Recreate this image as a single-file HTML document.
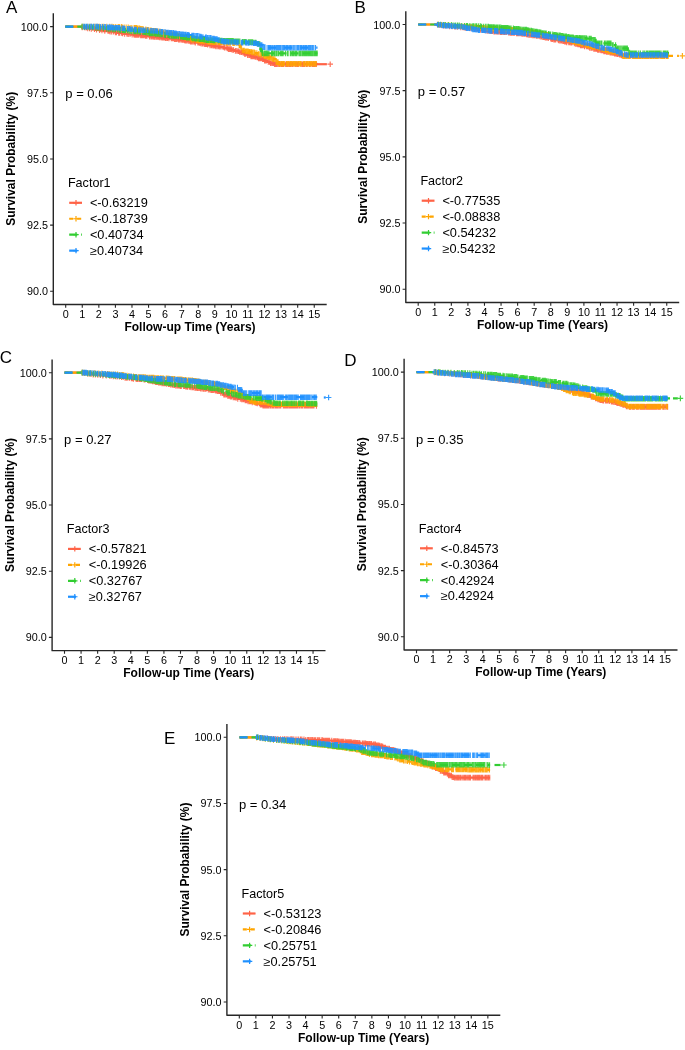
<!DOCTYPE html><html><head><meta charset="utf-8"><style>html,body{margin:0;padding:0;background:#fff;}svg{display:block;will-change:transform;}</style></head><body>
<svg width="685" height="1050" viewBox="0 0 685 1050">
<rect width="685" height="1050" fill="#fff"/>
<g font-family="'Liberation Sans', sans-serif"><path d="M53.3 13.37V304.53H326.7" fill="none" stroke="#262626" stroke-width="1.4" stroke-linejoin="round"/><text x="47.9" y="30.6" text-anchor="end" font-size="10.8" fill="#000">100.0</text><text x="47.9" y="96.78" text-anchor="end" font-size="10.8" fill="#000">97.5</text><text x="47.9" y="162.95" text-anchor="end" font-size="10.8" fill="#000">95.0</text><text x="47.9" y="229.12" text-anchor="end" font-size="10.8" fill="#000">92.5</text><text x="47.9" y="295.3" text-anchor="end" font-size="10.8" fill="#000">90.0</text><text x="65.7" y="317.83" text-anchor="middle" font-size="10.8" fill="#000">0</text><text x="82.27" y="317.83" text-anchor="middle" font-size="10.8" fill="#000">1</text><text x="98.84" y="317.83" text-anchor="middle" font-size="10.8" fill="#000">2</text><text x="115.41" y="317.83" text-anchor="middle" font-size="10.8" fill="#000">3</text><text x="131.98" y="317.83" text-anchor="middle" font-size="10.8" fill="#000">4</text><text x="148.55" y="317.83" text-anchor="middle" font-size="10.8" fill="#000">5</text><text x="165.12" y="317.83" text-anchor="middle" font-size="10.8" fill="#000">6</text><text x="181.69" y="317.83" text-anchor="middle" font-size="10.8" fill="#000">7</text><text x="198.26" y="317.83" text-anchor="middle" font-size="10.8" fill="#000">8</text><text x="214.83" y="317.83" text-anchor="middle" font-size="10.8" fill="#000">9</text><text x="231.4" y="317.83" text-anchor="middle" font-size="10.8" fill="#000">10</text><text x="247.97" y="317.83" text-anchor="middle" font-size="10.8" fill="#000">11</text><text x="264.54" y="317.83" text-anchor="middle" font-size="10.8" fill="#000">12</text><text x="281.11" y="317.83" text-anchor="middle" font-size="10.8" fill="#000">13</text><text x="297.68" y="317.83" text-anchor="middle" font-size="10.8" fill="#000">14</text><text x="314.25" y="317.83" text-anchor="middle" font-size="10.8" fill="#000">15</text><path d="M50.1 26.6H53.3M50.1 92.78H53.3M50.1 158.95H53.3M50.1 225.12H53.3M50.1 291.3H53.3M65.7 304.53V307.73M82.27 304.53V307.73M98.84 304.53V307.73M115.41 304.53V307.73M131.98 304.53V307.73M148.55 304.53V307.73M165.12 304.53V307.73M181.69 304.53V307.73M198.26 304.53V307.73M214.83 304.53V307.73M231.4 304.53V307.73M247.97 304.53V307.73M264.54 304.53V307.73M281.11 304.53V307.73M297.68 304.53V307.73M314.25 304.53V307.73" stroke="#262626" stroke-width="1.1" fill="none"/><text x="190" y="330.83" text-anchor="middle" font-size="12" font-weight="bold" fill="#000">Follow-up Time (Years)</text><text transform="translate(14.9 158.8) rotate(-90)" text-anchor="middle" font-size="12" font-weight="bold" fill="#000">Survival Probability (%)</text><text x="65.3" y="98.2" font-size="13" fill="#000">p = 0.06</text><text transform="translate(67.9 187.1) scale(1.025 1)" font-size="12.3" fill="#000">Factor1</text><path d="M69.2 202.8H82" stroke="#FF6347" stroke-width="2.2" fill="none"/><path d="M76 200.1v5.4M73.3 202.8h5.4" stroke="#FF6347" stroke-width="1.2" fill="none"/><text transform="translate(89.9 207.1) scale(1.04 1)" font-size="12.3" fill="#000">&lt;-0.63219</text><path d="M69.2 218.75H82" stroke="#FFA500" stroke-width="2.2" fill="none" stroke-dasharray="4 4"/><path d="M76 216.05v5.4M73.3 218.75h5.4" stroke="#FFA500" stroke-width="1.2" fill="none"/><text transform="translate(89.9 223.05) scale(1.04 1)" font-size="12.3" fill="#000">&lt;-0.18739</text><path d="M69.2 234.7H82" stroke="#32CD32" stroke-width="2.2" fill="none" stroke-dasharray="8 4"/><path d="M76 232v5.4M73.3 234.7h5.4" stroke="#32CD32" stroke-width="1.2" fill="none"/><text transform="translate(89.9 239) scale(1.04 1)" font-size="12.3" fill="#000">&lt;0.40734</text><path d="M69.2 250.65H82" stroke="#1E90FF" stroke-width="2.2" fill="none" stroke-dasharray="8 8"/><path d="M76 247.95v5.4M73.3 250.65h5.4" stroke="#1E90FF" stroke-width="1.2" fill="none"/><text transform="translate(89.9 254.95) scale(1.04 1)" font-size="12.3" fill="#000">≥0.40734</text><path d="M65.3 26.6H82V27.36H84.54V27.79H86.76V28.39H90.37V28.83H92.98V29.3H95.8V29.78H98.68V30.14H101.02V30.55H104.12V31.05H109.55V31.66H114.62V32.37H117.75V32.88H122.43V33.46H124.21V33.83H127.03V34.24H130.68V34.64H134.17V35.04H139.57V35.5H144.89V36.03H149.39V36.62H153.19V36.93H158.77V37.46H161.46V37.82H164.71V38.19H168.11V38.57H173.9V39.26H177.82V39.7H181.22V40.04H183.4V40.35H185.33V40.76H187.9V41.11H190.06V41.7H195.27V42.66H198.82V43.04H200.72V43.75H204.25V44.27H206.83V44.63H208.66V45.34H212.63V45.76H215.17V46.42H219.12V46.8H221.43V47.15H223.52V47.79H226.41V48.33H228.4V49.13H231.34V50.03H234.61V50.87H237.71V51.29H239.22V52.31H242.39V53.05H244.56V53.95H247.2V55.19H250.84V56.43H254.51V57H256.34V57.52H258.07V58.54H261.45V59.31H264.03V60.62H267.3V62H270.42V63.3H274.39V64.2H317.5" stroke="#FF6347" stroke-width="2.2" fill="none"/><path d="M65.3 26.6H113.19V26.92H122.22V27.26H129.52V27.84H136.73V28.4H139.98V28.82H142.73V29.31H145.87V29.76H148.78V30.23H151.8V30.82H155.62V31.24H158.31V31.6H160.48V32.01H162.53V32.57H165.35V33.25H168.75V33.74H171.22V34.18H173.38V34.56H175.28V35.22H178.58V35.53H180.1V36.25H182.5V36.82H184.4V37.81H187.71V38.82H191.06V39.78H194.28V40.12H198.18V40.62H200.37V41.05H204.14V41.49H207.99V41.89H211.43V42.23H216.92V42.53H225.2V42.89H232.91V43.32H239.74V47.06H241.64V50.49H245.36V51.2H248.77V51.71H251.19V52.4H254.54V53.14H257.26V54.04H260.4V55.08H263.77V56.31H267.58V57.29H270.52V58.02H272.57V59.13H275.68V62.16H278.83V63.8H317.5" stroke="#FFA500" stroke-width="2.2" fill="none" stroke-dasharray="4 4"/><path d="M65.3 26.6H83.73V27.07H88.94V27.39H93.85V27.96H98.98V28.39H105.5V28.89H111.56V29.44H119.09V29.87H120.68V30.25H124.46V30.56H127.6V30.95H131.54V31.34H137.94V31.78H139.79V32.25H145.28V32.66H149.18V33.33H154.61V33.92H159.74V34.53H162.79V34.84H165.34V35.25H168.86V35.6H171.88V36.06H177.56V36.47H179.34V36.82H182.3V37.23H185.86V37.68H191.52V38.36H195.43V38.7H198.02V39.21H203.37V39.74H205.83V40.13H212.09V40.51H222.14V40.86H233.42V41.26H241.14V41.74H247.8V42.14H253.86V42.55H256.46V43.92H260.32V49.45H261.88V53.4H317.5" stroke="#32CD32" stroke-width="2.2" fill="none" stroke-dasharray="8 4"/><path d="M65.3 26.6H98.01V26.92H105.76V27.39H112.73V27.81H119.53V28.3H124.58V28.73H130.29V29.25H132.52V29.64H136.36V29.94H141.15V30.29H148.37V30.71H153.06V31.04H157.3V31.48H160.67V31.91H166.31V32.5H169.14V32.9H174.11V33.42H176.81V33.78H179.87V34.18H183.19V34.56H186.3V34.87H188.91V35.19H191.59V35.54H194.53V35.92H198.84V36.55H201.57V36.96H204.35V37.38H207.3V37.86H212.25V38.48H214.89V39.17H217.16V40.02H219.89V41.03H223.17V41.67H228.2V41.97H235.44V42.34H240.33V42.67H246.51V42.98H251.69V43.29H256.9V43.87H259.02V44.96H262.73V47.08H265.32V47.7H317.5" stroke="#1E90FF" stroke-width="2.2" fill="none" stroke-dasharray="8 8"/><path d="M82.21 24.56v5.6M84.52 24.56v5.6M86.1 24.99v5.6M87.72 25.59v5.6M89.56 25.59v5.6M91.3 26.03v5.6M94.46 26.5v5.6M96.49 26.98v5.6M99.6 27.34v5.6M101.95 27.75v5.6M104.79 28.25v5.6M107.94 28.25v5.6M109.04 28.25v5.6M110.11 28.86v5.6M111.64 28.86v5.6M113.4 28.86v5.6M115.38 29.57v5.6M116.48 29.57v5.6M118.67 30.08v5.6M119.78 30.08v5.6M121.63 30.08v5.6M122.64 30.66v5.6M124.64 31.03v5.6M126.99 31.03v5.6M128.26 31.44v5.6M130.01 31.44v5.6M132.15 31.84v5.6M133.92 31.84v5.6M134.83 32.24v5.6M135.87 32.24v5.6M136.81 32.24v5.6M137.93 32.24v5.6M139.01 32.24v5.6M140.63 32.7v5.6M141.41 32.7v5.6M142.27 32.7v5.6M143.27 32.7v5.6M144.26 32.7v5.6M145.52 33.23v5.6M146.26 33.23v5.6M146.95 33.23v5.6M149.46 33.82v5.6M150.84 33.82v5.6M151.74 33.82v5.6M152.91 33.82v5.6M154 34.13v5.6M154.94 34.13v5.6M156.23 34.13v5.6M157.33 34.13v5.6M158.46 34.13v5.6M159.4 34.66v5.6M160.79 34.66v5.6M161.95 35.02v5.6M162.67 35.02v5.6M163.44 35.02v5.6M164.45 35.02v5.6M165.53 35.39v5.6M166.31 35.39v5.6M167.55 35.39v5.6M168.92 35.77v5.6M171.27 35.77v5.6M172.06 35.77v5.6M172.86 35.77v5.6M173.86 35.77v5.6M174.53 36.46v5.6M175.3 36.46v5.6M176.06 36.46v5.6M177.18 36.46v5.6M178.57 36.9v5.6M179.71 36.9v5.6M181.08 36.9v5.6M182.25 37.24v5.6M183.3 37.24v5.6M184.46 37.55v5.6M185.42 37.96v5.6M186.59 37.96v5.6M187.9 37.96v5.6M189.11 38.31v5.6M190.46 38.9v5.6M191.58 38.9v5.6M192.37 38.9v5.6M193.69 38.9v5.6M194.47 38.9v5.6M195.28 39.86v5.6M197.85 39.86v5.6M198.53 39.86v5.6M199.6 40.24v5.6M200.44 40.24v5.6M201.17 40.95v5.6M202.56 40.95v5.6M203.94 40.95v5.6M204.7 41.47v5.6M205.53 41.47v5.6M206.66 41.47v5.6M207.63 41.83v5.6M210 42.54v5.6M211.32 42.54v5.6M211.99 42.54v5.6M213.22 42.96v5.6M214 42.96v5.6M215.12 42.96v5.6M215.84 43.62v5.6M217.21 43.62v5.6M218.59 43.62v5.6M219.73 44v5.6M220.99 44v5.6M223.12 44.35v5.6M224.44 44.99v5.6M226.1 44.99v5.6M227.38 45.53v5.6M228.51 46.33v5.6M229.47 46.33v5.6M230.33 46.33v5.6M231.25 46.33v5.6M232.21 47.23v5.6M233.51 47.23v5.6M235.38 48.07v5.6M236.77 48.07v5.6M238.05 48.49v5.6M238.9 48.49v5.6M239.8 49.51v5.6M241.16 49.51v5.6M241.88 49.51v5.6M243.26 50.25v5.6M244.59 51.15v5.6M245.61 51.15v5.6M247.6 52.39v5.6M248.88 52.39v5.6M249.69 52.39v5.6M250.95 53.63v5.6M251.66 53.63v5.6M252.77 53.63v5.6M253.62 53.63v5.6M254.43 53.63v5.6M255.22 54.2v5.6M255.97 54.2v5.6M257.27 54.72v5.6M258.49 55.74v5.6M259.5 55.74v5.6M260.43 55.74v5.6M261.36 55.74v5.6M262.55 56.51v5.6M263.5 56.51v5.6M264.52 57.82v5.6M265.4 57.82v5.6M266.32 57.82v5.6M268.25 59.2v5.6M269.4 59.2v5.6M270.56 60.5v5.6M271.27 60.5v5.6M272.6 60.5v5.6M273.72 60.5v5.6M274.51 61.4v5.6M275.49 61.4v5.6M276.47 61.4v5.6M277.7 61.4v5.6M278.98 61.4v5.6M280.06 61.4v5.6M281.43 61.4v5.6M282.19 61.4v5.6M282.98 61.4v5.6M283.63 61.4v5.6M285.67 61.4v5.6M286.61 61.4v5.6M287.56 61.4v5.6M288.85 61.4v5.6M289.54 61.4v5.6M290.53 61.4v5.6M291.9 61.4v5.6M292.94 61.4v5.6M295.12 61.4v5.6M296.3 61.4v5.6M297.54 61.4v5.6M298.36 61.4v5.6M300.89 61.4v5.6M302.23 61.4v5.6M303.17 61.4v5.6M304 61.4v5.6M304.71 61.4v5.6M306.38 61.4v5.6M307.18 61.4v5.6M309.42 61.4v5.6M310.29 61.4v5.6M312.18 61.4v5.6M312.91 61.4v5.6M313.97 61.4v5.6M315.09 61.4v5.6M316.32 61.4v5.6" stroke="#FF6347" stroke-width="1.1" fill="none" opacity="0.9"/><path d="M82.31 23.8v5.6M84.12 23.8v5.6M87.25 23.8v5.6M89.62 23.8v5.6M91.2 23.8v5.6M94.2 23.8v5.6M96.07 23.8v5.6M97.66 23.8v5.6M99.44 23.8v5.6M102.14 23.8v5.6M103.83 23.8v5.6M106.76 23.8v5.6M109.75 23.8v5.6M111.97 23.8v5.6M113.71 24.12v5.6M115.78 24.12v5.6M118.13 24.12v5.6M119.34 24.12v5.6M121.33 24.12v5.6M122.38 24.46v5.6M124.16 24.46v5.6M126.15 24.46v5.6M128.2 24.46v5.6M130.1 25.04v5.6M131.83 25.04v5.6M134.09 25.04v5.6M134.75 25.04v5.6M135.88 25.04v5.6M136.61 25.04v5.6M137.58 25.6v5.6M138.91 25.6v5.6M139.63 25.6v5.6M140.51 26.02v5.6M141.38 26.02v5.6M142.69 26.02v5.6M143.46 26.51v5.6M145.83 26.51v5.6M147.13 26.96v5.6M148.32 26.96v5.6M149.96 27.43v5.6M151.13 27.43v5.6M151.88 28.02v5.6M152.85 28.02v5.6M153.64 28.02v5.6M154.45 28.02v5.6M155.34 28.02v5.6M156.39 28.44v5.6M157.12 28.44v5.6M158.12 28.44v5.6M160.09 28.8v5.6M160.94 29.21v5.6M161.65 29.21v5.6M163.51 29.77v5.6M165.14 29.77v5.6M166.21 30.45v5.6M167.53 30.45v5.6M168.73 30.45v5.6M169.66 30.94v5.6M170.99 30.94v5.6M171.71 31.38v5.6M172.74 31.38v5.6M174.88 31.76v5.6M176.06 32.42v5.6M177.36 32.42v5.6M178.37 32.42v5.6M179.26 32.73v5.6M181.48 33.45v5.6M182.64 34.02v5.6M183.4 34.02v5.6M184.05 34.02v5.6M184.76 35.01v5.6M186 35.01v5.6M186.86 35.01v5.6M187.66 35.01v5.6M189.66 36.02v5.6M190.89 36.02v5.6M191.64 36.98v5.6M192.89 36.98v5.6M193.84 36.98v5.6M196.21 37.32v5.6M197.29 37.32v5.6M197.97 37.32v5.6M198.74 37.82v5.6M199.76 37.82v5.6M200.91 38.25v5.6M201.72 38.25v5.6M202.87 38.25v5.6M203.77 38.25v5.6M204.54 38.69v5.6M206.89 38.69v5.6M208.13 39.09v5.6M209.12 39.09v5.6M209.98 39.09v5.6M211.2 39.09v5.6M212.32 39.43v5.6M213.2 39.43v5.6M214.35 39.43v5.6M215.4 39.43v5.6M216.78 39.43v5.6M218.53 39.73v5.6M219.19 39.73v5.6M220.32 39.73v5.6M221.02 39.73v5.6M221.88 39.73v5.6M223.25 39.73v5.6M224.4 39.73v5.6M226.14 40.09v5.6M227.07 40.09v5.6M227.92 40.09v5.6M228.67 40.09v5.6M229.74 40.09v5.6M230.51 40.09v5.6M232.6 40.09v5.6M233.53 40.52v5.6M234.73 40.52v5.6M236.95 40.52v5.6M238.63 40.52v5.6M240.7 44.26v5.6M241.56 44.26v5.6M242.26 47.69v5.6M243.52 47.69v5.6M244.27 47.69v5.6M245.63 48.4v5.6M246.34 48.4v5.6M247.06 48.4v5.6M248.1 48.4v5.6M248.82 48.91v5.6M249.86 48.91v5.6M251.14 48.91v5.6M251.9 49.6v5.6M252.98 49.6v5.6M254.24 49.6v5.6M255.13 50.34v5.6M256.83 50.34v5.6M258.51 51.24v5.6M259.84 51.24v5.6M261.12 52.28v5.6M263.36 52.28v5.6M264.47 53.51v5.6M265.3 53.51v5.6M266.35 53.51v5.6M267.01 53.51v5.6M267.85 54.49v5.6M268.61 54.49v5.6M269.7 54.49v5.6M270.71 55.22v5.6M271.71 55.22v5.6M272.73 56.33v5.6M273.67 56.33v5.6M274.94 56.33v5.6M276.14 59.36v5.6M277.06 59.36v5.6M278.07 59.36v5.6M278.89 61v5.6M280.05 61v5.6M281.3 61v5.6M282.18 61v5.6M283.36 61v5.6M284.33 61v5.6M286.55 61v5.6M287.74 61v5.6M288.68 61v5.6M290.05 61v5.6M291.11 61v5.6M291.97 61v5.6M293.24 61v5.6M293.94 61v5.6M294.71 61v5.6M295.88 61v5.6M297.02 61v5.6M298.31 61v5.6M299.41 61v5.6M300.4 61v5.6M301.13 61v5.6M303.29 61v5.6M304.48 61v5.6M305.76 61v5.6M306.71 61v5.6M307.72 61v5.6M308.41 61v5.6M309.56 61v5.6M310.75 61v5.6M311.57 61v5.6M312.9 61v5.6M313.59 61v5.6M314.78 61v5.6M315.57 61v5.6M316.33 61v5.6" stroke="#FFA500" stroke-width="1.1" fill="none" opacity="0.9"/><path d="M82.02 23.8v5.6M84.54 24.27v5.6M86.6 24.27v5.6M89.38 24.59v5.6M92.63 24.59v5.6M95.96 25.16v5.6M97.95 25.16v5.6M99.97 25.59v5.6M103.37 25.59v5.6M106.79 26.09v5.6M108.69 26.09v5.6M110.19 26.09v5.6M112.25 26.64v5.6M113.86 26.64v5.6M115.38 26.64v5.6M117.65 26.64v5.6M119.3 27.07v5.6M120.5 27.07v5.6M122.35 27.45v5.6M123.44 27.45v5.6M124.46 27.76v5.6M125.52 27.76v5.6M127.42 27.76v5.6M129.02 28.15v5.6M130.28 28.15v5.6M131.71 28.54v5.6M133.8 28.54v5.6M134.61 28.54v5.6M135.71 28.54v5.6M137.09 28.54v5.6M137.79 28.54v5.6M139.18 28.98v5.6M140.31 29.45v5.6M142.85 29.45v5.6M144.1 29.45v5.6M145.21 29.45v5.6M145.99 29.86v5.6M147.33 29.86v5.6M148.67 29.86v5.6M149.43 30.53v5.6M150.32 30.53v5.6M151.34 30.53v5.6M152.19 30.53v5.6M153.11 30.53v5.6M154.42 30.53v5.6M155.58 31.12v5.6M156.8 31.12v5.6M157.64 31.12v5.6M158.36 31.12v5.6M159.76 31.73v5.6M161.09 31.73v5.6M162.26 31.73v5.6M164.39 32.04v5.6M165.58 32.45v5.6M167.87 32.45v5.6M168.61 32.45v5.6M169.52 32.8v5.6M170.92 32.8v5.6M171.94 33.26v5.6M173.18 33.26v5.6M174.26 33.26v5.6M175.22 33.26v5.6M176.23 33.26v5.6M177.11 33.26v5.6M178.49 33.67v5.6M180.51 34.02v5.6M181.32 34.02v5.6M182.12 34.02v5.6M182.96 34.43v5.6M183.84 34.43v5.6M184.78 34.43v5.6M185.47 34.43v5.6M186.53 34.88v5.6M187.61 34.88v5.6M188.33 34.88v5.6M189.52 34.88v5.6M191.36 34.88v5.6M192.63 35.56v5.6M193.85 35.56v5.6M194.58 35.56v5.6M195.44 35.9v5.6M196.47 35.9v5.6M197.84 35.9v5.6M199.17 36.41v5.6M200.31 36.41v5.6M200.99 36.41v5.6M202.15 36.41v5.6M203.21 36.41v5.6M204.01 36.94v5.6M205.06 36.94v5.6M206.29 37.33v5.6M206.95 37.33v5.6M208.03 37.33v5.6M208.8 37.33v5.6M210.13 37.33v5.6M210.95 37.33v5.6M212.09 37.33v5.6M213.11 37.71v5.6M214.14 37.71v5.6M215 37.71v5.6M217.11 37.71v5.6M218.5 37.71v5.6M219.84 37.71v5.6M220.96 37.71v5.6M221.94 37.71v5.6M223.31 38.06v5.6M224.3 38.06v5.6M225.04 38.06v5.6M226.25 38.06v5.6M227.39 38.06v5.6M228.33 38.06v5.6M229.15 38.06v5.6M230.26 38.06v5.6M231.05 38.06v5.6M232.17 38.06v5.6M233.12 38.06v5.6M234.2 38.46v5.6M235.41 38.46v5.6M236.06 38.46v5.6M236.93 38.46v5.6M237.71 38.46v5.6M238.61 38.46v5.6M239.83 38.46v5.6M242.41 38.94v5.6M243.29 38.94v5.6M244.49 38.94v5.6M245.43 38.94v5.6M246.14 38.94v5.6M248.23 39.34v5.6M249.15 39.34v5.6M250.02 39.34v5.6M250.9 39.34v5.6M251.97 39.34v5.6M252.64 39.34v5.6M253.88 39.75v5.6M255.23 39.75v5.6M255.9 39.75v5.6M257.73 41.12v5.6M258.41 41.12v5.6M259.76 41.12v5.6M260.57 46.65v5.6M261.36 46.65v5.6M262.26 50.6v5.6M263.15 50.6v5.6M264.54 50.6v5.6M265.62 50.6v5.6M266.55 50.6v5.6M267.7 50.6v5.6M268.94 50.6v5.6M271.54 50.6v5.6M272.63 50.6v5.6M273.93 50.6v5.6M274.77 50.6v5.6M276.08 50.6v5.6M276.78 50.6v5.6M278.13 50.6v5.6M278.92 50.6v5.6M280.59 50.6v5.6M281.64 50.6v5.6M282.31 50.6v5.6M283.16 50.6v5.6M285.41 50.6v5.6M287.3 50.6v5.6M288.11 50.6v5.6M290.32 50.6v5.6M291.25 50.6v5.6M292.57 50.6v5.6M293.39 50.6v5.6M294.14 50.6v5.6M295.44 50.6v5.6M296.17 50.6v5.6M296.99 50.6v5.6M298.92 50.6v5.6M299.87 50.6v5.6M300.92 50.6v5.6M302.22 50.6v5.6M303.02 50.6v5.6M304.16 50.6v5.6M305.19 50.6v5.6M306.21 50.6v5.6M306.88 50.6v5.6M308.02 50.6v5.6M309.11 50.6v5.6M310.22 50.6v5.6M311.33 50.6v5.6M312.05 50.6v5.6M312.85 50.6v5.6M314.04 50.6v5.6M315.11 50.6v5.6M316.17 50.6v5.6M317.18 50.6v5.6" stroke="#32CD32" stroke-width="1.1" fill="none" opacity="0.9"/><path d="M83.29 23.8v5.6M84.8 23.8v5.6M86.16 23.8v5.6M87.16 23.8v5.6M88.84 23.8v5.6M90.68 23.8v5.6M91.84 23.8v5.6M93.53 23.8v5.6M95.14 23.8v5.6M96.59 23.8v5.6M97.82 23.8v5.6M98.82 24.12v5.6M100.62 24.12v5.6M102.52 24.12v5.6M104.29 24.12v5.6M105.65 24.12v5.6M107.33 24.59v5.6M108.3 24.59v5.6M109.31 24.59v5.6M110.32 24.59v5.6M111.18 24.59v5.6M112.22 24.59v5.6M113.17 25.01v5.6M113.96 25.01v5.6M115.33 25.01v5.6M116.41 25.01v5.6M117.12 25.01v5.6M118.26 25.01v5.6M119.4 25.01v5.6M120.07 25.5v5.6M121.96 25.5v5.6M123.16 25.5v5.6M123.87 25.5v5.6M124.86 25.93v5.6M127.41 25.93v5.6M128.76 25.93v5.6M129.47 25.93v5.6M130.37 26.45v5.6M131.19 26.45v5.6M132.52 26.45v5.6M134.34 26.84v5.6M135.36 26.84v5.6M136.3 26.84v5.6M138.54 27.14v5.6M139.26 27.14v5.6M140.66 27.14v5.6M141.82 27.49v5.6M143.05 27.49v5.6M143.91 27.49v5.6M145.23 27.49v5.6M147.22 27.49v5.6M147.97 27.49v5.6M150.28 27.91v5.6M151.64 27.91v5.6M152.96 27.91v5.6M153.95 28.24v5.6M155.29 28.24v5.6M156.12 28.24v5.6M156.92 28.24v5.6M157.64 28.68v5.6M159.7 28.68v5.6M161.07 29.11v5.6M161.92 29.11v5.6M162.9 29.11v5.6M164.95 29.11v5.6M166.31 29.7v5.6M167.42 29.7v5.6M168.68 29.7v5.6M169.42 30.1v5.6M170.44 30.1v5.6M171.1 30.1v5.6M172.13 30.1v5.6M173.46 30.1v5.6M174.18 30.62v5.6M175.07 30.62v5.6M176.12 30.62v5.6M176.98 30.98v5.6M178.25 30.98v5.6M179.59 30.98v5.6M180.72 31.38v5.6M181.42 31.38v5.6M182.19 31.38v5.6M183.12 31.38v5.6M184.18 31.76v5.6M185.33 31.76v5.6M186.17 31.76v5.6M187.54 32.07v5.6M188.29 32.07v5.6M189.39 32.39v5.6M191.83 32.74v5.6M192.97 32.74v5.6M193.73 32.74v5.6M195.02 33.12v5.6M196.31 33.12v5.6M197.45 33.12v5.6M198.82 33.12v5.6M199.98 33.75v5.6M200.93 33.75v5.6M201.6 34.16v5.6M202.94 34.16v5.6M205.53 34.58v5.6M206.32 34.58v5.6M207.51 35.06v5.6M208.8 35.06v5.6M210.04 35.06v5.6M210.97 35.06v5.6M212.26 35.68v5.6M213.43 35.68v5.6M214.16 35.68v5.6M215.1 36.37v5.6M216.06 36.37v5.6M217.14 36.37v5.6M218.16 37.22v5.6M219.26 37.22v5.6M220.93 38.23v5.6M221.98 38.23v5.6M222.69 38.23v5.6M223.39 38.87v5.6M224.1 38.87v5.6M225.07 38.87v5.6M226.08 38.87v5.6M227.26 38.87v5.6M228.51 39.17v5.6M229.91 39.17v5.6M231.27 39.17v5.6M232.88 39.17v5.6M234.13 39.17v5.6M235.31 39.17v5.6M236.16 39.54v5.6M237.45 39.54v5.6M238.76 39.54v5.6M241.22 39.87v5.6M242.11 39.87v5.6M242.91 39.87v5.6M245.33 39.87v5.6M246.4 39.87v5.6M247.08 40.18v5.6M248.47 40.18v5.6M249.14 40.18v5.6M251.13 40.18v5.6M253.08 40.49v5.6M254.12 40.49v5.6M255.05 40.49v5.6M255.79 40.49v5.6M256.46 40.49v5.6M257.3 41.07v5.6M258.6 41.07v5.6M259.9 42.16v5.6M261.01 42.16v5.6M261.92 42.16v5.6M262.82 44.28v5.6M263.99 44.28v5.6M265.01 44.28v5.6M267.11 44.9v5.6M268.51 44.9v5.6M269.63 44.9v5.6M270.61 44.9v5.6M271.9 44.9v5.6M273.08 44.9v5.6M274.44 44.9v5.6M275.73 44.9v5.6M276.77 44.9v5.6M277.52 44.9v5.6M278.61 44.9v5.6M279.34 44.9v5.6M280.1 44.9v5.6M281.03 44.9v5.6M282.37 44.9v5.6M283.56 44.9v5.6M284.6 44.9v5.6M285.91 44.9v5.6M286.74 44.9v5.6M287.46 44.9v5.6M288.78 44.9v5.6M289.96 44.9v5.6M290.78 44.9v5.6M292.01 44.9v5.6M293.36 44.9v5.6M294.7 44.9v5.6M296.09 44.9v5.6M297.41 44.9v5.6M298.39 44.9v5.6M299.25 44.9v5.6M300.55 44.9v5.6M301.48 44.9v5.6M302.15 44.9v5.6M303.49 44.9v5.6M304.26 44.9v5.6M305.47 44.9v5.6M306.15 44.9v5.6M306.89 44.9v5.6M308.28 44.9v5.6M309.06 44.9v5.6M309.93 44.9v5.6M310.79 44.9v5.6M312 44.9v5.6M312.66 44.9v5.6M313.87 44.9v5.6M315.54 44.9v5.6" stroke="#1E90FF" stroke-width="1.1" fill="none" opacity="0.9"/><path d="M316.6 64.2H326.9" stroke="#FF6347" stroke-width="2.2" fill="none"/><path d="M330.2 61.4v5.6M327.4 64.2h5.6" stroke="#FF6347" stroke-width="1.2" fill="none" opacity="0.9"/></g>
<g font-family="'Liberation Sans', sans-serif"><path d="M405.8 11.27V302.43H679.2" fill="none" stroke="#262626" stroke-width="1.4" stroke-linejoin="round"/><text x="400.4" y="28.5" text-anchor="end" font-size="10.8" fill="#000">100.0</text><text x="400.4" y="94.67" text-anchor="end" font-size="10.8" fill="#000">97.5</text><text x="400.4" y="160.85" text-anchor="end" font-size="10.8" fill="#000">95.0</text><text x="400.4" y="227.02" text-anchor="end" font-size="10.8" fill="#000">92.5</text><text x="400.4" y="293.2" text-anchor="end" font-size="10.8" fill="#000">90.0</text><text x="418.2" y="315.73" text-anchor="middle" font-size="10.8" fill="#000">0</text><text x="434.77" y="315.73" text-anchor="middle" font-size="10.8" fill="#000">1</text><text x="451.34" y="315.73" text-anchor="middle" font-size="10.8" fill="#000">2</text><text x="467.91" y="315.73" text-anchor="middle" font-size="10.8" fill="#000">3</text><text x="484.48" y="315.73" text-anchor="middle" font-size="10.8" fill="#000">4</text><text x="501.05" y="315.73" text-anchor="middle" font-size="10.8" fill="#000">5</text><text x="517.62" y="315.73" text-anchor="middle" font-size="10.8" fill="#000">6</text><text x="534.19" y="315.73" text-anchor="middle" font-size="10.8" fill="#000">7</text><text x="550.76" y="315.73" text-anchor="middle" font-size="10.8" fill="#000">8</text><text x="567.33" y="315.73" text-anchor="middle" font-size="10.8" fill="#000">9</text><text x="583.9" y="315.73" text-anchor="middle" font-size="10.8" fill="#000">10</text><text x="600.47" y="315.73" text-anchor="middle" font-size="10.8" fill="#000">11</text><text x="617.04" y="315.73" text-anchor="middle" font-size="10.8" fill="#000">12</text><text x="633.61" y="315.73" text-anchor="middle" font-size="10.8" fill="#000">13</text><text x="650.18" y="315.73" text-anchor="middle" font-size="10.8" fill="#000">14</text><text x="666.75" y="315.73" text-anchor="middle" font-size="10.8" fill="#000">15</text><path d="M402.6 24.5H405.8M402.6 90.67H405.8M402.6 156.85H405.8M402.6 223.02H405.8M402.6 289.2H405.8M418.2 302.43V305.63M434.77 302.43V305.63M451.34 302.43V305.63M467.91 302.43V305.63M484.48 302.43V305.63M501.05 302.43V305.63M517.62 302.43V305.63M534.19 302.43V305.63M550.76 302.43V305.63M567.33 302.43V305.63M583.9 302.43V305.63M600.47 302.43V305.63M617.04 302.43V305.63M633.61 302.43V305.63M650.18 302.43V305.63M666.75 302.43V305.63" stroke="#262626" stroke-width="1.1" fill="none"/><text x="542.5" y="328.73" text-anchor="middle" font-size="12" font-weight="bold" fill="#000">Follow-up Time (Years)</text><text transform="translate(367.4 156.7) rotate(-90)" text-anchor="middle" font-size="12" font-weight="bold" fill="#000">Survival Probability (%)</text><text x="417.8" y="96.1" font-size="13" fill="#000">p = 0.57</text><text transform="translate(420.4 185) scale(1.025 1)" font-size="12.3" fill="#000">Factor2</text><path d="M421.7 200.7H434.5" stroke="#FF6347" stroke-width="2.2" fill="none"/><path d="M428.5 198v5.4M425.8 200.7h5.4" stroke="#FF6347" stroke-width="1.2" fill="none"/><text transform="translate(442.4 205) scale(1.04 1)" font-size="12.3" fill="#000">&lt;-0.77535</text><path d="M421.7 216.65H434.5" stroke="#FFA500" stroke-width="2.2" fill="none" stroke-dasharray="4 4"/><path d="M428.5 213.95v5.4M425.8 216.65h5.4" stroke="#FFA500" stroke-width="1.2" fill="none"/><text transform="translate(442.4 220.95) scale(1.04 1)" font-size="12.3" fill="#000">&lt;-0.08838</text><path d="M421.7 232.6H434.5" stroke="#32CD32" stroke-width="2.2" fill="none" stroke-dasharray="8 4"/><path d="M428.5 229.9v5.4M425.8 232.6h5.4" stroke="#32CD32" stroke-width="1.2" fill="none"/><text transform="translate(442.4 236.9) scale(1.04 1)" font-size="12.3" fill="#000">&lt;0.54232</text><path d="M421.7 248.55H434.5" stroke="#1E90FF" stroke-width="2.2" fill="none" stroke-dasharray="8 8"/><path d="M428.5 245.85v5.4M425.8 248.55h5.4" stroke="#1E90FF" stroke-width="1.2" fill="none"/><text transform="translate(442.4 252.85) scale(1.04 1)" font-size="12.3" fill="#000">≥0.54232</text><path d="M418.2 24.5H438.68V25.09H443.38V25.75H448.13V26.47H454.69V27.06H458.05V27.43H464.6V27.94H469.09V28.56H474.23V29.13H478.55V29.86H481.88V30.23H484.52V30.62H487.28V31.01H490.1V31.31H493.71V31.64H500.09V32.15H507.06V32.69H510.31V33.02H516.26V33.38H521.27V33.94H525.76V34.47H527.76V34.95H531.56V35.44H535.49V35.9H539.18V36.62H542.66V37.21H545.18V37.74H547.45V38.32H549.96V38.68H551.51V39.1H553.3V39.69H555.98V40.17H558.52V40.76H561.66V41.32H564.56V41.65H566.31V42.34H569.93V42.82H572.49V43.35H575.19V43.95H577.62V44.54H580.03V45.48H583.83V46.44H587.75V46.93H589.71V48.02H593.5V49.04H597.03V50.03H600.59V50.51H602.8V51.34H606.54V51.99H609.5V52.61H612.14V52.99H613.73V53.66H616.52V54.13H618.46V54.65H620.68V55.46H665.82V55.6H669" stroke="#FF6347" stroke-width="2.2" fill="none"/><path d="M418.2 24.5H440V24.89H445.02V25.32H450.12V25.73H455.78V26.19H462.27V26.61H467.69V26.99H471.56V27.37H478.78V27.81H484.78V28.23H489.79V28.61H496.08V28.98H504.45V29.41H510.45V29.83H516.15V30.37H520.77V30.95H526.28V31.36H528.63V31.81H531.86V32.18H535.61V32.72H537.32V33.27H540.63V33.74H543.44V34.2H545.85V35.07H549.45V35.82H552.57V36.3H554.57V36.78H556.58V37.67H560.31V38.28H562.83V38.97H565.71V39.55H568.11V40.57H571.96V41.45H574.99V42.48H578.55V43.21H581.07V44.14H584.28V44.63H585.96V45.15H587.77V45.8H590.02V46.18H592.25V46.84H596.13V47.19H598.2V47.9H601.09V49.26H604.77V50.31H607.61V51.38H611.35V51.8H614.62V52.24H619.86V54.03H622.12V56.1H669" stroke="#FFA500" stroke-width="2.2" fill="none" stroke-dasharray="4 4"/><path d="M418.2 24.5H443.2V24.88H453.51V25.28H461.24V25.68H471.62V26.13H480.92V26.47H488.99V26.97H494.95V27.38H501.13V27.77H508.36V28.24H513.68V28.77H519.45V29.25H521.45V29.62H526.77V30H529.02V30.48H531.94V31.06H534.99V31.51H537.3V31.94H539.5V32.31H541.45V33H545.01V33.38H547.49V33.69H549.51V34.26H553.21V34.79H556.67V35.35H560.36V35.78H563.26V36.36H567.23V36.73H569.75V37.28H573.51V37.68H580.41V38.11H586.24V38.59H591.59V39.83H595.58V43.32H612.08V44.98H615.58V48.4H627.84V52.52H629.72V53.2H669" stroke="#32CD32" stroke-width="2.2" fill="none" stroke-dasharray="8 4"/><path d="M418.2 24.5H437V24.81H441.94V25.37H445.07V25.77H450.7V26.09H454.62V26.57H461.65V27.03H464.11V27.46H466.62V28.26H470.28V28.6H471.81V29.41H475.67V29.76H477.91V30.21H485.02V30.52H488.87V30.87H497.23V31.34H502.87V31.74H510.36V32.23H516.84V32.63H522.56V33.32H526.04V33.65H530.58V34.2H533.29V34.55H536.24V35.01H540.09V35.46H543.84V36H547.63V36.5H550.89V37.03H554.33V37.48H557.25V37.94H560.26V38.47H563.58V38.92H566.36V39.32H568.9V39.8H571.85V40.18H574.27V40.58H576.75V41H579.4V41.47H581.52V41.93H583.38V42.73H586.6V43.2H588.53V43.73H590.66V44.3H592.96V45.18H595.86V46.29H598.39V47.05H600.24V47.65H603.38V48.29H608.18V49.06H610.67V49.49H612.87V50.32H615.95V51.52H618.68V52.91H621.83V54.09H624.51V54.6H626.66V54.97H666.31V55.2H669" stroke="#1E90FF" stroke-width="2.2" fill="none" stroke-dasharray="8 8"/><path d="M437.43 21.7v5.6M439.18 22.29v5.6M441.29 22.29v5.6M443.56 22.95v5.6M445.12 22.95v5.6M446.98 22.95v5.6M449.67 23.67v5.6M452.13 23.67v5.6M454.94 24.26v5.6M457.32 24.26v5.6M460.79 24.63v5.6M462.95 24.63v5.6M464.02 24.63v5.6M465.37 25.14v5.6M466.72 25.14v5.6M469.04 25.14v5.6M470.1 25.76v5.6M472.47 25.76v5.6M474.81 26.33v5.6M476.82 26.33v5.6M478.34 26.33v5.6M480.65 27.06v5.6M482.75 27.43v5.6M484.3 27.43v5.6M486.03 27.82v5.6M487.76 28.21v5.6M489.06 28.21v5.6M490.74 28.51v5.6M491.91 28.51v5.6M492.59 28.51v5.6M493.92 28.84v5.6M494.72 28.84v5.6M496.02 28.84v5.6M496.85 28.84v5.6M497.89 28.84v5.6M498.59 28.84v5.6M499.26 28.84v5.6M500.43 29.35v5.6M501.57 29.35v5.6M502.91 29.35v5.6M504.15 29.35v5.6M505.09 29.35v5.6M506.34 29.35v5.6M508.59 29.89v5.6M509.46 29.89v5.6M510.57 30.22v5.6M511.49 30.22v5.6M512.71 30.22v5.6M513.46 30.22v5.6M514.57 30.22v5.6M516.48 30.58v5.6M517.54 30.58v5.6M518.67 30.58v5.6M519.89 30.58v5.6M521.08 30.58v5.6M522.03 31.14v5.6M523.19 31.14v5.6M524.46 31.14v5.6M525.23 31.14v5.6M526.5 31.67v5.6M527.22 31.67v5.6M528.22 32.15v5.6M529.47 32.15v5.6M530.33 32.15v5.6M531.49 32.15v5.6M532.32 32.64v5.6M533.64 32.64v5.6M534.53 32.64v5.6M535.19 32.64v5.6M536.49 33.1v5.6M537.72 33.1v5.6M539.07 33.1v5.6M540.23 33.82v5.6M541.48 33.82v5.6M542.79 34.41v5.6M543.67 34.41v5.6M544.53 34.41v5.6M545.27 34.94v5.6M546.24 34.94v5.6M547.11 34.94v5.6M548.33 35.52v5.6M550.72 35.88v5.6M551.76 36.3v5.6M552.57 36.3v5.6M553.85 36.89v5.6M554.71 36.89v5.6M555.73 36.89v5.6M558.29 37.37v5.6M559.11 37.96v5.6M560.34 37.96v5.6M561.52 37.96v5.6M562.83 38.52v5.6M563.93 38.52v5.6M564.65 38.85v5.6M565.66 38.85v5.6M566.72 39.54v5.6M568.73 39.54v5.6M569.75 39.54v5.6M570.94 40.02v5.6M571.85 40.02v5.6M574.36 40.55v5.6M575.69 41.15v5.6M576.9 41.15v5.6M577.89 41.74v5.6M578.6 41.74v5.6M579.47 41.74v5.6M580.47 42.68v5.6M581.34 42.68v5.6M582.3 42.68v5.6M583.16 42.68v5.6M584.52 43.64v5.6M586.37 43.64v5.6M587.5 43.64v5.6M588.83 44.13v5.6M589.73 45.22v5.6M591.07 45.22v5.6M592.14 45.22v5.6M593.81 46.24v5.6M594.96 46.24v5.6M595.85 46.24v5.6M596.72 46.24v5.6M597.67 47.23v5.6M598.58 47.23v5.6M599.89 47.23v5.6M601.04 47.71v5.6M601.94 47.71v5.6M602.74 47.71v5.6M603.84 48.54v5.6M604.71 48.54v5.6M605.4 48.54v5.6M606.58 49.19v5.6M607.72 49.19v5.6M608.88 49.19v5.6M610.12 49.81v5.6M610.99 49.81v5.6M611.93 49.81v5.6M612.82 50.19v5.6M613.68 50.19v5.6M614.56 50.86v5.6M615.5 50.86v5.6M616.36 50.86v5.6M617.14 51.33v5.6M618.16 51.33v5.6M619.48 51.85v5.6M620.6 51.85v5.6M621.34 52.66v5.6M622.28 52.66v5.6M623.97 52.66v5.6M624.89 52.66v5.6M626.29 52.66v5.6M627.6 52.66v5.6M628.77 52.66v5.6M629.6 52.66v5.6M630.65 52.66v5.6M631.36 52.66v5.6M632.62 52.66v5.6M633.87 52.66v5.6M635 52.66v5.6M636.11 52.66v5.6M636.89 52.66v5.6M638.14 52.66v5.6M639.94 52.66v5.6M640.73 52.66v5.6M641.59 52.66v5.6M642.59 52.66v5.6M643.33 52.66v5.6M645.35 52.66v5.6M646.37 52.66v5.6M647.55 52.66v5.6M648.79 52.66v5.6M649.78 52.66v5.6M650.57 52.66v5.6M651.86 52.66v5.6M653.09 52.66v5.6M653.79 52.66v5.6M654.92 52.66v5.6M656 52.66v5.6M656.85 52.66v5.6M657.51 52.66v5.6M658.26 52.66v5.6M659.29 52.66v5.6M660.51 52.66v5.6M661.2 52.66v5.6M662.14 52.66v5.6M664.26 52.66v5.6M664.99 52.66v5.6M666.37 52.8v5.6M667.44 52.8v5.6" stroke="#FF6347" stroke-width="1.1" fill="none" opacity="0.9"/><path d="M438.42 21.7v5.6M441.68 22.09v5.6M444.05 22.09v5.6M445.92 22.52v5.6M448.14 22.52v5.6M449.85 22.52v5.6M452.29 22.93v5.6M454.99 22.93v5.6M457.43 23.39v5.6M458.98 23.39v5.6M460.59 23.39v5.6M462.39 23.81v5.6M463.68 23.81v5.6M465.38 23.81v5.6M467.74 24.19v5.6M469.64 24.19v5.6M470.96 24.19v5.6M472.15 24.57v5.6M474.38 24.57v5.6M475.4 24.57v5.6M476.83 24.57v5.6M478.5 24.57v5.6M480.67 25.01v5.6M482.73 25.01v5.6M484.17 25.01v5.6M485.21 25.43v5.6M486.69 25.43v5.6M487.76 25.43v5.6M489.03 25.43v5.6M490.79 25.81v5.6M492.08 25.81v5.6M493 25.81v5.6M493.92 25.81v5.6M494.78 25.81v5.6M496.91 26.18v5.6M498.01 26.18v5.6M500.27 26.18v5.6M502.75 26.18v5.6M503.94 26.18v5.6M505.04 26.61v5.6M505.81 26.61v5.6M506.69 26.61v5.6M507.95 26.61v5.6M509.12 26.61v5.6M509.92 26.61v5.6M510.79 27.03v5.6M511.5 27.03v5.6M512.29 27.03v5.6M514.85 27.03v5.6M516.23 27.57v5.6M517.04 27.57v5.6M518.08 27.57v5.6M518.99 27.57v5.6M520.3 27.57v5.6M521.35 28.15v5.6M522.65 28.15v5.6M523.52 28.15v5.6M526.03 28.15v5.6M527.05 28.56v5.6M527.76 28.56v5.6M528.5 28.56v5.6M529.61 29.01v5.6M530.56 29.01v5.6M531.26 29.01v5.6M532.58 29.38v5.6M533.76 29.38v5.6M534.94 29.38v5.6M536.27 29.92v5.6M537.07 29.92v5.6M539.28 30.47v5.6M540.11 30.47v5.6M541.12 30.94v5.6M542.19 30.94v5.6M543.38 30.94v5.6M544.52 31.4v5.6M545.59 31.4v5.6M546.65 32.27v5.6M547.81 32.27v5.6M548.57 32.27v5.6M549.72 33.02v5.6M550.48 33.02v5.6M552.87 33.5v5.6M553.58 33.5v5.6M554.6 33.98v5.6M555.53 33.98v5.6M556.7 34.87v5.6M557.84 34.87v5.6M558.75 34.87v5.6M559.64 34.87v5.6M560.9 35.48v5.6M561.82 35.48v5.6M562.75 35.48v5.6M563.82 36.17v5.6M564.84 36.17v5.6M565.52 36.17v5.6M566.7 36.75v5.6M568.05 36.75v5.6M569.31 37.77v5.6M570.58 37.77v5.6M571.31 37.77v5.6M572.3 38.65v5.6M572.98 38.65v5.6M574.06 38.65v5.6M575.01 39.68v5.6M576.05 39.68v5.6M576.91 39.68v5.6M577.78 39.68v5.6M578.82 40.41v5.6M579.86 40.41v5.6M581.06 40.41v5.6M581.89 41.34v5.6M582.61 41.34v5.6M585.1 41.83v5.6M586.37 42.35v5.6M587.67 42.35v5.6M588.36 43v5.6M589.19 43v5.6M590.39 43.38v5.6M591.41 43.38v5.6M592.5 44.04v5.6M593.15 44.04v5.6M594.19 44.04v5.6M595.5 44.04v5.6M597.64 44.39v5.6M598.48 45.1v5.6M599.59 45.1v5.6M602.03 46.46v5.6M603.18 46.46v5.6M604.19 46.46v5.6M605.43 47.51v5.6M606.27 47.51v5.6M607.06 47.51v5.6M608.24 48.58v5.6M609 48.58v5.6M610.32 48.58v5.6M611.67 49v5.6M612.34 49v5.6M613.4 49v5.6M614.28 49v5.6M615.59 49.44v5.6M617.27 49.44v5.6M618.47 49.44v5.6M619.59 49.44v5.6M620.61 51.23v5.6M621.99 51.23v5.6M622.76 53.3v5.6M623.71 53.3v5.6M624.48 53.3v5.6M625.66 53.3v5.6M626.79 53.3v5.6M628.01 53.3v5.6M629.13 53.3v5.6M630.16 53.3v5.6M632.63 53.3v5.6M633.37 53.3v5.6M634.33 53.3v5.6M635.31 53.3v5.6M636.06 53.3v5.6M637.02 53.3v5.6M637.92 53.3v5.6M638.7 53.3v5.6M639.57 53.3v5.6M640.36 53.3v5.6M641.25 53.3v5.6M642.57 53.3v5.6M643.78 53.3v5.6M644.57 53.3v5.6M645.48 53.3v5.6M646.25 53.3v5.6M646.95 53.3v5.6M647.64 53.3v5.6M648.64 53.3v5.6M650.01 53.3v5.6M651.12 53.3v5.6M651.89 53.3v5.6M653.15 53.3v5.6M654.22 53.3v5.6M655.51 53.3v5.6M656.58 53.3v5.6M657.72 53.3v5.6M659.03 53.3v5.6M660.75 53.3v5.6M661.89 53.3v5.6M662.69 53.3v5.6M663.68 53.3v5.6M664.58 53.3v5.6M666.35 53.3v5.6M667.31 53.3v5.6M668.15 53.3v5.6" stroke="#FFA500" stroke-width="1.1" fill="none" opacity="0.9"/><path d="M438.28 21.7v5.6M440.69 21.7v5.6M443.62 22.08v5.6M445.31 22.08v5.6M448.24 22.08v5.6M451.66 22.08v5.6M453.89 22.48v5.6M455.69 22.48v5.6M457.55 22.48v5.6M459.23 22.48v5.6M461.72 22.88v5.6M464.58 22.88v5.6M466.57 22.88v5.6M467.6 22.88v5.6M469.88 22.88v5.6M472.2 23.33v5.6M473.5 23.33v5.6M475.09 23.33v5.6M476.45 23.33v5.6M478.27 23.33v5.6M480.26 23.33v5.6M481.42 23.67v5.6M483.33 23.67v5.6M485.31 23.67v5.6M486.98 23.67v5.6M488.45 23.67v5.6M489.17 24.17v5.6M490.22 24.17v5.6M490.91 24.17v5.6M491.71 24.17v5.6M492.92 24.17v5.6M494.03 24.17v5.6M495.2 24.58v5.6M496.49 24.58v5.6M497.26 24.58v5.6M498.2 24.58v5.6M499.54 24.58v5.6M500.79 24.58v5.6M501.87 24.97v5.6M502.93 24.97v5.6M503.94 24.97v5.6M504.59 24.97v5.6M505.29 24.97v5.6M506.12 24.97v5.6M506.95 24.97v5.6M507.98 24.97v5.6M508.81 25.44v5.6M509.81 25.44v5.6M511.06 25.44v5.6M513.36 25.44v5.6M514.22 25.97v5.6M515 25.97v5.6M516.2 25.97v5.6M516.89 25.97v5.6M518.05 25.97v5.6M518.93 25.97v5.6M519.66 26.45v5.6M520.86 26.45v5.6M522.18 26.82v5.6M523.4 26.82v5.6M524.67 26.82v5.6M525.71 26.82v5.6M526.44 26.82v5.6M527.19 27.2v5.6M528.12 27.2v5.6M529.05 27.68v5.6M530.23 27.68v5.6M531.56 27.68v5.6M532.6 28.26v5.6M533.89 28.26v5.6M535.23 28.71v5.6M536.16 28.71v5.6M536.98 28.71v5.6M537.96 29.14v5.6M539.22 29.14v5.6M539.88 29.51v5.6M540.86 29.51v5.6M542.04 30.2v5.6M542.9 30.2v5.6M544.15 30.2v5.6M545.46 30.58v5.6M546.21 30.58v5.6M548.58 30.89v5.6M549.65 31.46v5.6M550.67 31.46v5.6M552.77 31.46v5.6M554 31.99v5.6M554.89 31.99v5.6M556.04 31.99v5.6M557.09 32.55v5.6M558.03 32.55v5.6M559.41 32.55v5.6M560.17 32.55v5.6M561 32.98v5.6M561.86 32.98v5.6M562.83 32.98v5.6M563.67 33.56v5.6M564.87 33.56v5.6M565.59 33.56v5.6M566.42 33.56v5.6M567.72 33.93v5.6M568.85 33.93v5.6M569.87 34.48v5.6M570.96 34.48v5.6M572.08 34.48v5.6M573.2 34.48v5.6M574.07 34.88v5.6M575.71 34.88v5.6M576.58 34.88v5.6M577.73 34.88v5.6M579.1 34.88v5.6M579.78 34.88v5.6M580.78 35.31v5.6M581.67 35.31v5.6M582.68 35.31v5.6M583.84 35.31v5.6M584.99 35.31v5.6M586.24 35.31v5.6M586.98 35.79v5.6M589.08 35.79v5.6M590.04 35.79v5.6M591.2 35.79v5.6M592.32 37.03v5.6M593.58 37.03v5.6M594.36 37.03v5.6M595.22 37.03v5.6M595.88 40.52v5.6M596.57 40.52v5.6M597.65 40.52v5.6M598.79 40.52v5.6M599.86 40.52v5.6M601.15 40.52v5.6M601.87 40.52v5.6M604.43 40.52v5.6M605.74 40.52v5.6M607.11 40.52v5.6M607.96 40.52v5.6M609.01 40.52v5.6M609.9 40.52v5.6M611.01 40.52v5.6M612.34 42.18v5.6M613.19 42.18v5.6M615.57 42.18v5.6M617.37 45.6v5.6M618.38 45.6v5.6M619.72 45.6v5.6M620.97 45.6v5.6M622.25 45.6v5.6M623.62 45.6v5.6M624.48 45.6v5.6M625.26 45.6v5.6M626.38 45.6v5.6M627.41 45.6v5.6M628.34 49.72v5.6M629.6 49.72v5.6M630.35 50.4v5.6M631.47 50.4v5.6M632.48 50.4v5.6M633.63 50.4v5.6M634.76 50.4v5.6M635.54 50.4v5.6M636.75 50.4v5.6M638.72 50.4v5.6M640.41 50.4v5.6M642.95 50.4v5.6M644.3 50.4v5.6M646.13 50.4v5.6M647.27 50.4v5.6M648.03 50.4v5.6M649.4 50.4v5.6M650.5 50.4v5.6M651.59 50.4v5.6M652.71 50.4v5.6M653.83 50.4v5.6M655 50.4v5.6M656.04 50.4v5.6M656.78 50.4v5.6M657.81 50.4v5.6M658.6 50.4v5.6M659.7 50.4v5.6M661.01 50.4v5.6M663.24 50.4v5.6M664.29 50.4v5.6M665.09 50.4v5.6M665.85 50.4v5.6M667.14 50.4v5.6M667.86 50.4v5.6" stroke="#32CD32" stroke-width="1.1" fill="none" opacity="0.9"/><path d="M437.51 22.01v5.6M439.08 22.01v5.6M440.4 22.01v5.6M442.06 22.57v5.6M443.08 22.57v5.6M444.07 22.57v5.6M445.55 22.97v5.6M446.6 22.97v5.6M447.94 22.97v5.6M449.11 22.97v5.6M450.2 22.97v5.6M451.57 23.29v5.6M452.9 23.29v5.6M454.36 23.29v5.6M455.6 23.77v5.6M456.91 23.77v5.6M458.33 23.77v5.6M459.76 23.77v5.6M461.08 23.77v5.6M462.61 24.23v5.6M463.75 24.23v5.6M464.7 24.66v5.6M465.9 24.66v5.6M466.62 25.46v5.6M467.66 25.46v5.6M468.89 25.46v5.6M469.88 25.46v5.6M471.59 25.8v5.6M472.79 26.61v5.6M473.51 26.61v5.6M474.26 26.61v5.6M475.1 26.61v5.6M475.99 26.96v5.6M477.17 26.96v5.6M478.42 27.41v5.6M479.46 27.41v5.6M481.78 27.41v5.6M482.67 27.41v5.6M483.58 27.41v5.6M484.29 27.41v5.6M485.02 27.72v5.6M485.82 27.72v5.6M487.12 27.72v5.6M488.48 27.72v5.6M489.59 28.07v5.6M490.33 28.07v5.6M491.21 28.07v5.6M491.92 28.07v5.6M494.48 28.07v5.6M495.14 28.07v5.6M496.1 28.07v5.6M497.01 28.07v5.6M497.97 28.54v5.6M500.35 28.54v5.6M501.02 28.54v5.6M501.96 28.54v5.6M502.66 28.54v5.6M503.8 28.94v5.6M504.87 28.94v5.6M506.12 28.94v5.6M507.37 28.94v5.6M508.33 28.94v5.6M509.47 28.94v5.6M511.11 29.43v5.6M511.77 29.43v5.6M512.44 29.43v5.6M513.48 29.43v5.6M514.18 29.43v5.6M514.86 29.43v5.6M516.05 29.43v5.6M516.74 29.43v5.6M517.71 29.83v5.6M518.57 29.83v5.6M519.64 29.83v5.6M520.6 29.83v5.6M521.48 29.83v5.6M522.33 29.83v5.6M523.35 30.52v5.6M524.58 30.52v5.6M525.42 30.52v5.6M527.43 30.85v5.6M528.8 30.85v5.6M531.22 31.4v5.6M532.37 31.4v5.6M533.53 31.75v5.6M534.67 31.75v5.6M535.4 31.75v5.6M536.33 32.21v5.6M537.34 32.21v5.6M538.27 32.21v5.6M539.03 32.21v5.6M539.91 32.21v5.6M542.21 32.66v5.6M543.32 32.66v5.6M544.24 33.2v5.6M545.46 33.2v5.6M546.51 33.2v5.6M547.45 33.2v5.6M548.27 33.7v5.6M549.05 33.7v5.6M550.34 33.7v5.6M551.41 34.23v5.6M552.51 34.23v5.6M553.83 34.23v5.6M554.51 34.68v5.6M555.49 34.68v5.6M556.7 34.68v5.6M558.33 35.14v5.6M559.17 35.14v5.6M560.23 35.14v5.6M560.99 35.67v5.6M561.72 35.67v5.6M562.67 35.67v5.6M563.73 36.12v5.6M564.84 36.12v5.6M567.44 36.52v5.6M568.7 36.52v5.6M570.01 37v5.6M571.13 37v5.6M572.28 37.38v5.6M573.36 37.38v5.6M574.13 37.38v5.6M575.5 37.78v5.6M576.56 37.78v5.6M577.54 38.2v5.6M578.26 38.2v5.6M579.19 38.2v5.6M580.29 38.67v5.6M581.65 39.13v5.6M582.54 39.13v5.6M583.91 39.93v5.6M584.7 39.93v5.6M585.89 39.93v5.6M587.2 40.4v5.6M588.2 40.4v5.6M589.54 40.93v5.6M590.27 40.93v5.6M591.44 41.5v5.6M592.22 41.5v5.6M593 42.38v5.6M593.67 42.38v5.6M595.04 42.38v5.6M595.94 43.49v5.6M597.11 43.49v5.6M598.3 43.49v5.6M599.01 44.25v5.6M600.86 44.85v5.6M601.61 44.85v5.6M602.27 44.85v5.6M603.44 45.49v5.6M604.69 45.49v5.6M606.77 45.49v5.6M608.11 45.49v5.6M609.33 46.26v5.6M610.27 46.26v5.6M611.15 46.69v5.6M611.91 46.69v5.6M613.1 47.52v5.6M614.15 47.52v5.6M615.45 47.52v5.6M616.31 48.72v5.6M617.31 48.72v5.6M618.12 48.72v5.6M619.01 50.11v5.6M620.26 50.11v5.6M621.35 50.11v5.6M622.34 51.29v5.6M624.4 51.29v5.6M625.73 51.8v5.6M626.39 51.8v5.6M627.05 52.17v5.6M628.27 52.17v5.6M630.51 52.17v5.6M631.77 52.17v5.6M632.66 52.17v5.6M633.58 52.17v5.6M634.97 52.17v5.6M636.02 52.17v5.6M636.82 52.17v5.6M637.49 52.17v5.6M639.38 52.17v5.6M640.13 52.17v5.6M641.5 52.17v5.6M642.31 52.17v5.6M643.26 52.17v5.6M644.14 52.17v5.6M645.34 52.17v5.6M646.59 52.17v5.6M647.26 52.17v5.6M648.5 52.17v5.6M649.88 52.17v5.6M650.66 52.17v5.6M651.89 52.17v5.6M653.12 52.17v5.6M653.85 52.17v5.6M654.75 52.17v5.6M656.09 52.17v5.6M657.35 52.17v5.6M658.51 52.17v5.6M659.89 52.17v5.6M660.9 52.17v5.6M662.15 52.17v5.6M663.37 52.17v5.6M664.43 52.17v5.6M665.26 52.17v5.6M666.62 52.4v5.6M667.41 52.4v5.6" stroke="#1E90FF" stroke-width="1.1" fill="none" opacity="0.9"/><path d="M669 55.9H673M677.1 55.9H678.9" stroke="#FFA500" stroke-width="2.2" fill="none"/><path d="M682.4 53.1v5.6M679.6 55.9h5.6" stroke="#FFA500" stroke-width="1.2" fill="none" opacity="0.9"/></g>
<g font-family="'Liberation Sans', sans-serif"><path d="M52.1 359.47V650.63H325.5" fill="none" stroke="#262626" stroke-width="1.4" stroke-linejoin="round"/><text x="46.7" y="376.7" text-anchor="end" font-size="10.8" fill="#000">100.0</text><text x="46.7" y="442.88" text-anchor="end" font-size="10.8" fill="#000">97.5</text><text x="46.7" y="509.05" text-anchor="end" font-size="10.8" fill="#000">95.0</text><text x="46.7" y="575.22" text-anchor="end" font-size="10.8" fill="#000">92.5</text><text x="46.7" y="641.4" text-anchor="end" font-size="10.8" fill="#000">90.0</text><text x="64.5" y="663.93" text-anchor="middle" font-size="10.8" fill="#000">0</text><text x="81.07" y="663.93" text-anchor="middle" font-size="10.8" fill="#000">1</text><text x="97.64" y="663.93" text-anchor="middle" font-size="10.8" fill="#000">2</text><text x="114.21" y="663.93" text-anchor="middle" font-size="10.8" fill="#000">3</text><text x="130.78" y="663.93" text-anchor="middle" font-size="10.8" fill="#000">4</text><text x="147.35" y="663.93" text-anchor="middle" font-size="10.8" fill="#000">5</text><text x="163.92" y="663.93" text-anchor="middle" font-size="10.8" fill="#000">6</text><text x="180.49" y="663.93" text-anchor="middle" font-size="10.8" fill="#000">7</text><text x="197.06" y="663.93" text-anchor="middle" font-size="10.8" fill="#000">8</text><text x="213.63" y="663.93" text-anchor="middle" font-size="10.8" fill="#000">9</text><text x="230.2" y="663.93" text-anchor="middle" font-size="10.8" fill="#000">10</text><text x="246.77" y="663.93" text-anchor="middle" font-size="10.8" fill="#000">11</text><text x="263.34" y="663.93" text-anchor="middle" font-size="10.8" fill="#000">12</text><text x="279.91" y="663.93" text-anchor="middle" font-size="10.8" fill="#000">13</text><text x="296.48" y="663.93" text-anchor="middle" font-size="10.8" fill="#000">14</text><text x="313.05" y="663.93" text-anchor="middle" font-size="10.8" fill="#000">15</text><path d="M48.9 372.7H52.1M48.9 438.88H52.1M48.9 505.05H52.1M48.9 571.22H52.1M48.9 637.4H52.1M64.5 650.63V653.83M81.07 650.63V653.83M97.64 650.63V653.83M114.21 650.63V653.83M130.78 650.63V653.83M147.35 650.63V653.83M163.92 650.63V653.83M180.49 650.63V653.83M197.06 650.63V653.83M213.63 650.63V653.83M230.2 650.63V653.83M246.77 650.63V653.83M263.34 650.63V653.83M279.91 650.63V653.83M296.48 650.63V653.83M313.05 650.63V653.83" stroke="#262626" stroke-width="1.1" fill="none"/><text x="188.8" y="676.93" text-anchor="middle" font-size="12" font-weight="bold" fill="#000">Follow-up Time (Years)</text><text transform="translate(13.7 504.9) rotate(-90)" text-anchor="middle" font-size="12" font-weight="bold" fill="#000">Survival Probability (%)</text><text x="64.1" y="444.3" font-size="13" fill="#000">p = 0.27</text><text transform="translate(66.7 533.2) scale(1.025 1)" font-size="12.3" fill="#000">Factor3</text><path d="M68 548.9H80.8" stroke="#FF6347" stroke-width="2.2" fill="none"/><path d="M74.8 546.2v5.4M72.1 548.9h5.4" stroke="#FF6347" stroke-width="1.2" fill="none"/><text transform="translate(88.7 553.2) scale(1.04 1)" font-size="12.3" fill="#000">&lt;-0.57821</text><path d="M68 564.85H80.8" stroke="#FFA500" stroke-width="2.2" fill="none" stroke-dasharray="4 4"/><path d="M74.8 562.15v5.4M72.1 564.85h5.4" stroke="#FFA500" stroke-width="1.2" fill="none"/><text transform="translate(88.7 569.15) scale(1.04 1)" font-size="12.3" fill="#000">&lt;-0.19926</text><path d="M68 580.8H80.8" stroke="#32CD32" stroke-width="2.2" fill="none" stroke-dasharray="8 4"/><path d="M74.8 578.1v5.4M72.1 580.8h5.4" stroke="#32CD32" stroke-width="1.2" fill="none"/><text transform="translate(88.7 585.1) scale(1.04 1)" font-size="12.3" fill="#000">&lt;0.32767</text><path d="M68 596.75H80.8" stroke="#1E90FF" stroke-width="2.2" fill="none" stroke-dasharray="8 8"/><path d="M74.8 594.05v5.4M72.1 596.75h5.4" stroke="#1E90FF" stroke-width="1.2" fill="none"/><text transform="translate(88.7 601.05) scale(1.04 1)" font-size="12.3" fill="#000">≥0.32767</text><path d="M64.5 372.6H83.19V373.26H86.6V373.77H90.53V374.1H93.07V374.6H96.93V374.94H99.51V375.26H102.56V375.64H108.37V376H111.91V376.35H116.1V376.79H119.64V377.22H124.41V377.95H129.65V378.49H132.78V378.93H136.54V379.32H141.78V379.76H146.09V380.22H147.6V380.79H151.53V381.45H154.94V382.12H158.46V382.72H161.59V383.49H165.55V383.96H168.02V384.27H169.63V384.73H172.02V385.22H174.61V385.66H179.64V386.26H185.65V386.72H187.22V387.07H190.23V387.49H193.91V387.84H196.93V388.24H200.27V388.63H202.87V389H206.92V389.79H210.6V390.23H215.37V390.8H217.35V391.29H220.19V392.84H223.42V394.7H227.3V395.94H229.87V396.67H232.74V397.48H235.98V397.88H237.64V398.85H241.54V399.45H243.99V400.47H247.96V401.43H251.65V402.36H255.24V402.85H257.1V403.53H259.73V404.73H262.45V405.78H316.14V405.9H317.3" stroke="#FF6347" stroke-width="2.2" fill="none"/><path d="M64.5 372.6H86.04V372.93H95.4V373.33H103.5V373.8H110.66V374.24H117.59V374.78H123.86V375.53H127.74V375.91H130.89V376.29H134.11V376.72H137.66V377.07H145.97V377.49H154.49V378H160.39V378.3H169.45V378.8H176.99V379.35H182.62V379.87H186.46V380.18H192.68V380.76H195.92V381.39H199.5V381.96H202.71V382.63H206.54V383.03H208.82V383.55H211.74V383.91H215.41V384.78H218.75V385.42H221.05V386.03H222.58V387.19H225.48V388.51H228.77V389.18H230.45V390.09H232.73V391.58H236.45V392.76H239.41V393.64H241.08V395.65H244.47V396.91H246.58V398.39H249.08V400.73H253.03V401.93H266.01V402.4H268.01V403.1H270.34V404.25H315.9V404.5H317.3" stroke="#FFA500" stroke-width="2.2" fill="none" stroke-dasharray="4 4"/><path d="M64.5 372.6H84.35V373.05H86.43V373.41H93.28V373.9H98.64V374.43H104.77V374.86H106.64V375.18H113.29V375.66H117.62V375.97H119.64V376.31H125.67V376.86H128.61V377.17H134.11V377.56H137.16V378.15H140.84V378.66H143.79V379.3H147.41V379.88H150.75V380.43H153.87V380.84H156.23V381.42H159.53V381.88H162.37V382.34H165.25V382.75H167.79V383.26H171.03V383.86H174.76V384.21H178.55V384.55H184.04V384.95H189.32V385.34H194.25V385.73H197.46V386.21H200.75V386.72H204.31V387.15H207.23V387.65H210.66V388.2H216.33V388.78H218.47V389.51H221.27V390.39H223.48V391.75H226.87V392.86H229.64V393.44H231.82V394.36H235.66V394.9H237.9V395.62H240.91V396.41H244.2V396.91H249.64V397.35H251.96V397.77H255.88V398.08H260.93V398.65H263.69V399.51H266.61V400.79H269.51V401.67H271.53V402.88H274.27V403.21H307.49V403.53H315.28V403.6H317.3" stroke="#32CD32" stroke-width="2.2" fill="none" stroke-dasharray="8 4"/><path d="M64.5 372.6H86.88V373.03H94.42V373.47H99.08V373.77H105.53V374.34H108.73V374.66H115.55V375.07H117.34V375.38H122.41V375.94H128.19V376.5H132.9V376.88H134.78V377.18H137.63V377.49H143.32V378H147.7V378.5H154.55V378.83H164.07V379.15H170.97V379.48H176.76V379.85H178.99V380.16H182.49V380.48H188.8V381.02H194.43V381.49H200.74V381.96H202.36V382.3H207.98V382.92H211.07V383.33H214.86V383.66H217.85V384.01H220.41V384.96H224.07V385.58H226.46V386.03H228.2V386.66H231.16V387.18H234.96V387.6H238.07V389.8H241.71V393.1H262.1V397.2H317.3" stroke="#1E90FF" stroke-width="2.2" fill="none" stroke-dasharray="8 8"/><path d="M82.54 369.8v5.6M84.28 370.46v5.6M87.69 370.97v5.6M89.25 370.97v5.6M91.01 371.3v5.6M93.15 371.8v5.6M95.32 371.8v5.6M97.82 372.14v5.6M100.41 372.46v5.6M102.85 372.84v5.6M106.3 372.84v5.6M109.65 373.2v5.6M111.14 373.2v5.6M113.3 373.55v5.6M115.43 373.55v5.6M117.1 373.99v5.6M119.41 373.99v5.6M121.55 374.42v5.6M123.18 374.42v5.6M125.09 375.15v5.6M126.37 375.15v5.6M127.8 375.15v5.6M129.54 375.15v5.6M131.42 375.69v5.6M132.44 375.69v5.6M133.42 376.13v5.6M136.01 376.13v5.6M136.89 376.52v5.6M137.55 376.52v5.6M138.95 376.52v5.6M139.89 376.52v5.6M140.82 376.52v5.6M141.64 376.52v5.6M144.12 376.96v5.6M145.01 376.96v5.6M147.55 377.42v5.6M148.75 377.99v5.6M149.45 377.99v5.6M150.13 377.99v5.6M150.82 377.99v5.6M151.51 377.99v5.6M152.47 378.65v5.6M153.84 378.65v5.6M154.76 378.65v5.6M155.6 379.32v5.6M156.46 379.32v5.6M157.38 379.32v5.6M158.53 379.92v5.6M159.58 379.92v5.6M160.66 379.92v5.6M161.97 380.69v5.6M163.22 380.69v5.6M164.39 380.69v5.6M165.36 380.69v5.6M166.67 381.16v5.6M168.47 381.47v5.6M169.37 381.47v5.6M170.6 381.93v5.6M171.98 381.93v5.6M173.11 382.42v5.6M174.47 382.42v5.6M175.72 382.86v5.6M177 382.86v5.6M177.84 382.86v5.6M178.53 382.86v5.6M179.41 382.86v5.6M180.34 383.46v5.6M181.3 383.46v5.6M183.6 383.46v5.6M184.5 383.46v5.6M185.71 383.92v5.6M186.53 383.92v5.6M187.46 384.27v5.6M189.26 384.27v5.6M190.01 384.27v5.6M191.16 384.69v5.6M192.55 384.69v5.6M193.55 384.69v5.6M194.92 385.04v5.6M195.66 385.04v5.6M196.78 385.04v5.6M197.44 385.44v5.6M198.69 385.44v5.6M199.93 385.44v5.6M200.74 385.83v5.6M202.08 385.83v5.6M203.38 386.2v5.6M204.11 386.2v5.6M205.37 386.2v5.6M206.05 386.2v5.6M208.33 386.99v5.6M209.64 386.99v5.6M210.93 387.43v5.6M211.9 387.43v5.6M212.88 387.43v5.6M214.03 387.43v5.6M215.41 388v5.6M216.53 388v5.6M217.35 388.49v5.6M218.05 388.49v5.6M219.07 388.49v5.6M219.87 388.49v5.6M220.73 390.04v5.6M222.12 390.04v5.6M222.84 390.04v5.6M223.83 391.9v5.6M224.48 391.9v5.6M225.32 391.9v5.6M226.52 391.9v5.6M227.73 393.14v5.6M228.76 393.14v5.6M229.42 393.14v5.6M230.37 393.87v5.6M231.52 393.87v5.6M233.21 394.68v5.6M234.39 394.68v5.6M235.07 394.68v5.6M236.12 395.08v5.6M237.76 396.05v5.6M240.3 396.05v5.6M241.7 396.65v5.6M242.92 396.65v5.6M243.9 396.65v5.6M245.2 397.67v5.6M246.02 397.67v5.6M246.7 397.67v5.6M248.02 398.63v5.6M249.29 398.63v5.6M250.32 398.63v5.6M251 398.63v5.6M252.28 399.56v5.6M254.76 399.56v5.6M255.88 400.05v5.6M256.55 400.05v5.6M257.34 400.73v5.6M259.48 400.73v5.6M260.34 401.93v5.6M261 401.93v5.6M262.16 401.93v5.6M262.99 402.98v5.6M264.11 402.98v5.6M265.19 402.98v5.6M266.09 402.98v5.6M267 402.98v5.6M267.8 402.98v5.6M268.62 402.98v5.6M269.99 402.98v5.6M270.84 402.98v5.6M272.15 402.98v5.6M273.05 402.98v5.6M274.12 402.98v5.6M275.5 402.98v5.6M276.53 402.98v5.6M277.6 402.98v5.6M278.85 402.98v5.6M280.04 402.98v5.6M280.83 402.98v5.6M283.25 402.98v5.6M284 402.98v5.6M284.91 402.98v5.6M285.99 402.98v5.6M286.92 402.98v5.6M287.85 402.98v5.6M289.08 402.98v5.6M290.06 402.98v5.6M291.13 402.98v5.6M292.21 402.98v5.6M293.03 402.98v5.6M293.88 402.98v5.6M294.96 402.98v5.6M295.69 402.98v5.6M296.35 402.98v5.6M297.47 402.98v5.6M298.85 402.98v5.6M299.69 402.98v5.6M301.08 402.98v5.6M302.01 402.98v5.6M302.92 402.98v5.6M304.53 402.98v5.6M305.31 402.98v5.6M306.31 402.98v5.6M307.19 402.98v5.6M308.13 402.98v5.6M309.1 402.98v5.6M310.28 402.98v5.6M311.28 402.98v5.6M312.35 402.98v5.6M313.02 402.98v5.6M314.02 402.98v5.6M316.42 403.1v5.6" stroke="#FF6347" stroke-width="1.1" fill="none" opacity="0.9"/><path d="M82.09 369.8v5.6M84.17 369.8v5.6M86.22 370.13v5.6M87.95 370.13v5.6M90.87 370.13v5.6M93.99 370.13v5.6M95.52 370.53v5.6M98.8 370.53v5.6M101.88 370.53v5.6M105.3 371v5.6M107.5 371v5.6M109.15 371v5.6M111.21 371.44v5.6M113.24 371.44v5.6M115.61 371.44v5.6M117.59 371.44v5.6M119.42 371.98v5.6M121.09 371.98v5.6M122.38 371.98v5.6M123.72 371.98v5.6M125.31 372.73v5.6M127.04 372.73v5.6M128.9 373.11v5.6M131.12 373.49v5.6M133.5 373.49v5.6M134.36 373.92v5.6M135.49 373.92v5.6M136.47 373.92v5.6M138.3 374.27v5.6M139.31 374.27v5.6M140.34 374.27v5.6M141.73 374.27v5.6M142.97 374.27v5.6M144 374.27v5.6M145.28 374.27v5.6M146.36 374.69v5.6M147.59 374.69v5.6M148.92 374.69v5.6M149.8 374.69v5.6M151.05 374.69v5.6M151.95 374.69v5.6M152.73 374.69v5.6M153.74 374.69v5.6M154.92 375.2v5.6M155.6 375.2v5.6M156.82 375.2v5.6M157.54 375.2v5.6M158.5 375.2v5.6M160.17 375.2v5.6M161.14 375.5v5.6M161.93 375.5v5.6M162.83 375.5v5.6M163.62 375.5v5.6M166.21 375.5v5.6M167.23 375.5v5.6M168.84 375.5v5.6M169.68 376v5.6M171.07 376v5.6M171.89 376v5.6M172.68 376v5.6M173.88 376v5.6M174.81 376v5.6M177.28 376.55v5.6M178.42 376.55v5.6M179.54 376.55v5.6M180.62 376.55v5.6M181.88 376.55v5.6M182.93 377.07v5.6M184.03 377.07v5.6M185.41 377.07v5.6M186.47 377.38v5.6M187.78 377.38v5.6M188.8 377.38v5.6M190.03 377.38v5.6M191.18 377.38v5.6M192.54 377.38v5.6M193.28 377.96v5.6M194.31 377.96v5.6M195.05 377.96v5.6M195.91 377.96v5.6M196.76 378.59v5.6M197.75 378.59v5.6M198.84 378.59v5.6M199.82 379.16v5.6M200.59 379.16v5.6M203.14 379.83v5.6M204.04 379.83v5.6M204.97 379.83v5.6M205.84 379.83v5.6M207.04 380.23v5.6M208.4 380.23v5.6M210.58 380.75v5.6M212.57 381.11v5.6M213.52 381.11v5.6M214.52 381.11v5.6M215.82 381.98v5.6M216.99 381.98v5.6M217.84 381.98v5.6M218.59 381.98v5.6M219.85 382.62v5.6M220.82 382.62v5.6M222.2 383.23v5.6M223.14 384.39v5.6M224.29 384.39v5.6M225.4 384.39v5.6M226.17 385.71v5.6M227.49 385.71v5.6M228.82 386.38v5.6M229.7 386.38v5.6M230.8 387.29v5.6M231.86 387.29v5.6M233.15 388.78v5.6M234.29 388.78v5.6M234.95 388.78v5.6M236.05 388.78v5.6M237.42 389.96v5.6M238.77 389.96v5.6M239.57 390.84v5.6M240.32 390.84v5.6M241.25 392.85v5.6M242.01 392.85v5.6M243.05 392.85v5.6M244.26 392.85v5.6M245.6 394.11v5.6M246.53 394.11v5.6M247.57 395.59v5.6M248.76 395.59v5.6M249.68 397.93v5.6M250.68 397.93v5.6M251.65 397.93v5.6M252.61 397.93v5.6M253.68 399.13v5.6M254.6 399.13v5.6M255.67 399.13v5.6M256.94 399.13v5.6M258.28 399.13v5.6M259.62 399.13v5.6M260.45 399.13v5.6M261.41 399.13v5.6M262.14 399.13v5.6M263.14 399.13v5.6M264.46 399.13v5.6M265.36 399.13v5.6M266.18 399.6v5.6M267.39 399.6v5.6M268.13 400.3v5.6M268.78 400.3v5.6M270.15 400.3v5.6M271.38 401.45v5.6M272.54 401.45v5.6M273.38 401.45v5.6M274.06 401.45v5.6M274.78 401.45v5.6M276.17 401.45v5.6M277.5 401.45v5.6M278.56 401.45v5.6M279.84 401.45v5.6M281.16 401.45v5.6M282 401.45v5.6M282.96 401.45v5.6M283.84 401.45v5.6M284.75 401.45v5.6M285.78 401.45v5.6M287.07 401.45v5.6M288.42 401.45v5.6M289.41 401.45v5.6M290.49 401.45v5.6M291.25 401.45v5.6M292.26 401.45v5.6M293.46 401.45v5.6M294.29 401.45v5.6M295.14 401.45v5.6M296.06 401.45v5.6M296.95 401.45v5.6M298.21 401.45v5.6M299 401.45v5.6M300.06 401.45v5.6M301.03 401.45v5.6M301.69 401.45v5.6M303.05 401.45v5.6M304.05 401.45v5.6M305.21 401.45v5.6M307.18 401.45v5.6M308.45 401.45v5.6M309.35 401.45v5.6M310.56 401.45v5.6M311.58 401.45v5.6M312.5 401.45v5.6M313.58 401.45v5.6M314.65 401.45v5.6M315.45 401.45v5.6M316.56 401.7v5.6" stroke="#FFA500" stroke-width="1.1" fill="none" opacity="0.9"/><path d="M82.08 369.8v5.6M85.04 370.25v5.6M87.55 370.61v5.6M89.33 370.61v5.6M90.86 370.61v5.6M93.58 371.1v5.6M95.65 371.1v5.6M97.35 371.1v5.6M100.26 371.63v5.6M103.28 371.63v5.6M105.8 372.06v5.6M108.27 372.38v5.6M109.53 372.38v5.6M111.3 372.38v5.6M112.7 372.38v5.6M114.08 372.86v5.6M115.21 372.86v5.6M117.39 372.86v5.6M119.46 373.17v5.6M120.47 373.51v5.6M122.53 373.51v5.6M123.7 373.51v5.6M125.97 374.06v5.6M127.34 374.06v5.6M129.18 374.37v5.6M131.47 374.37v5.6M133.23 374.37v5.6M134.46 374.76v5.6M135.27 374.76v5.6M136.22 374.76v5.6M137.27 375.35v5.6M139.64 375.35v5.6M140.58 375.35v5.6M141.5 375.86v5.6M142.81 375.86v5.6M143.65 375.86v5.6M145.03 376.5v5.6M146.09 376.5v5.6M147.03 376.5v5.6M148.04 377.08v5.6M148.78 377.08v5.6M149.91 377.08v5.6M150.84 377.63v5.6M151.73 377.63v5.6M152.92 377.63v5.6M154.1 378.04v5.6M155.36 378.04v5.6M156.46 378.62v5.6M157.48 378.62v5.6M158.31 378.62v5.6M159.25 378.62v5.6M160.31 379.08v5.6M161.34 379.08v5.6M162.7 379.54v5.6M164.38 379.54v5.6M165.48 379.95v5.6M166.19 379.95v5.6M167.25 379.95v5.6M168.02 380.46v5.6M169.34 380.46v5.6M170.08 380.46v5.6M170.92 380.46v5.6M172.27 381.06v5.6M174.3 381.06v5.6M174.97 381.41v5.6M175.84 381.41v5.6M178 381.41v5.6M178.82 381.75v5.6M179.6 381.75v5.6M180.65 381.75v5.6M181.34 381.75v5.6M182.61 381.75v5.6M183.8 381.75v5.6M185.14 382.15v5.6M185.9 382.15v5.6M186.85 382.15v5.6M187.97 382.15v5.6M189.23 382.15v5.6M190.19 382.54v5.6M192.21 382.54v5.6M194.69 382.93v5.6M196.61 382.93v5.6M197.42 382.93v5.6M198.45 383.41v5.6M199.26 383.41v5.6M200.11 383.41v5.6M201.13 383.92v5.6M202.33 383.92v5.6M203.15 383.92v5.6M204.33 384.35v5.6M205.1 384.35v5.6M205.95 384.35v5.6M206.71 384.35v5.6M208.67 384.85v5.6M209.77 384.85v5.6M210.8 385.4v5.6M212.01 385.4v5.6M212.75 385.4v5.6M213.98 385.4v5.6M214.96 385.4v5.6M216.27 385.4v5.6M217.61 385.98v5.6M218.79 386.71v5.6M220.18 386.71v5.6M221.51 387.59v5.6M222.75 387.59v5.6M223.74 388.95v5.6M226.33 388.95v5.6M227.69 390.06v5.6M228.68 390.06v5.6M229.36 390.06v5.6M231.5 390.64v5.6M232.74 391.56v5.6M233.79 391.56v5.6M235.12 391.56v5.6M236.17 392.1v5.6M236.86 392.1v5.6M238.16 392.82v5.6M238.87 392.82v5.6M239.81 392.82v5.6M240.67 392.82v5.6M242 393.61v5.6M243.4 393.61v5.6M244.68 394.11v5.6M245.59 394.11v5.6M246.54 394.11v5.6M247.31 394.11v5.6M248.36 394.11v5.6M249.12 394.11v5.6M249.89 394.55v5.6M250.69 394.55v5.6M253.04 394.97v5.6M253.77 394.97v5.6M255.12 394.97v5.6M255.84 394.97v5.6M256.63 395.28v5.6M257.77 395.28v5.6M258.9 395.28v5.6M259.69 395.28v5.6M260.5 395.28v5.6M261.56 395.85v5.6M262.48 395.85v5.6M263.15 395.85v5.6M265.12 396.71v5.6M265.78 396.71v5.6M267.02 397.99v5.6M267.78 397.99v5.6M268.94 397.99v5.6M270.12 398.87v5.6M271.29 398.87v5.6M273.05 400.08v5.6M274.18 400.08v5.6M275.3 400.41v5.6M276.32 400.41v5.6M277.37 400.41v5.6M278.03 400.41v5.6M279.33 400.41v5.6M280.28 400.41v5.6M282.61 400.41v5.6M283.94 400.41v5.6M285.21 400.41v5.6M286.46 400.41v5.6M287.6 400.41v5.6M288.87 400.41v5.6M290.19 400.41v5.6M291.46 400.41v5.6M292.33 400.41v5.6M293.73 400.41v5.6M294.92 400.41v5.6M296.28 400.41v5.6M298.34 400.41v5.6M299.05 400.41v5.6M299.81 400.41v5.6M300.48 400.41v5.6M301.82 400.41v5.6M302.98 400.41v5.6M303.81 400.41v5.6M306.38 400.41v5.6M307.37 400.41v5.6M308.05 400.73v5.6M309.18 400.73v5.6M310.21 400.73v5.6M311.48 400.73v5.6M312.28 400.73v5.6M313.03 400.73v5.6M314.35 400.73v5.6M315.14 400.73v5.6M315.91 400.8v5.6M316.65 400.8v5.6" stroke="#32CD32" stroke-width="1.1" fill="none" opacity="0.9"/><path d="M82.89 369.8v5.6M83.97 369.8v5.6M85.17 369.8v5.6M86.25 369.8v5.6M87.38 370.23v5.6M89.14 370.23v5.6M90.5 370.23v5.6M92.19 370.23v5.6M94.08 370.23v5.6M95.87 370.67v5.6M97.45 370.67v5.6M99.14 370.97v5.6M100.84 370.97v5.6M102.47 370.97v5.6M103.83 370.97v5.6M105.07 370.97v5.6M106.14 371.54v5.6M107.5 371.54v5.6M108.53 371.54v5.6M109.59 371.86v5.6M110.51 371.86v5.6M111.68 371.86v5.6M113.02 371.86v5.6M113.77 371.86v5.6M114.74 371.86v5.6M115.59 372.27v5.6M116.64 372.27v5.6M117.65 372.58v5.6M118.72 372.58v5.6M120.09 372.58v5.6M121.1 372.58v5.6M121.99 372.58v5.6M122.94 373.14v5.6M123.69 373.14v5.6M124.68 373.14v5.6M125.43 373.14v5.6M126.33 373.14v5.6M128.81 373.7v5.6M129.82 373.7v5.6M130.57 373.7v5.6M131.32 373.7v5.6M133.07 374.08v5.6M135.28 374.38v5.6M136.16 374.38v5.6M136.91 374.38v5.6M139.17 374.69v5.6M139.88 374.69v5.6M140.91 374.69v5.6M141.69 374.69v5.6M143.03 374.69v5.6M144.08 375.2v5.6M144.85 375.2v5.6M146.14 375.2v5.6M147.05 375.2v5.6M148.07 375.7v5.6M149.37 375.7v5.6M150.74 375.7v5.6M151.75 375.7v5.6M152.51 375.7v5.6M154.32 375.7v5.6M156.09 376.03v5.6M156.98 376.03v5.6M157.96 376.03v5.6M158.79 376.03v5.6M159.76 376.03v5.6M160.65 376.03v5.6M161.69 376.03v5.6M163 376.03v5.6M164.66 376.35v5.6M167.15 376.35v5.6M167.87 376.35v5.6M168.85 376.35v5.6M169.94 376.35v5.6M170.65 376.35v5.6M171.88 376.68v5.6M172.85 376.68v5.6M174.76 376.68v5.6M176.04 376.68v5.6M176.88 377.05v5.6M178.02 377.05v5.6M179.23 377.36v5.6M180.15 377.36v5.6M181.42 377.36v5.6M182.65 377.68v5.6M184 377.68v5.6M185.08 377.68v5.6M186.18 377.68v5.6M188.72 377.68v5.6M189.8 378.22v5.6M190.48 378.22v5.6M191.58 378.22v5.6M192.74 378.22v5.6M193.74 378.22v5.6M194.73 378.69v5.6M195.7 378.69v5.6M196.69 378.69v5.6M197.58 378.69v5.6M198.3 378.69v5.6M199.06 378.69v5.6M199.93 378.69v5.6M200.98 379.16v5.6M201.65 379.16v5.6M202.6 379.5v5.6M203.48 379.5v5.6M204.16 379.5v5.6M205.39 379.5v5.6M206.42 379.5v5.6M207.54 379.5v5.6M208.76 380.12v5.6M209.6 380.12v5.6M210.26 380.12v5.6M211.63 380.53v5.6M212.64 380.53v5.6M213.76 380.53v5.6M215.77 380.86v5.6M216.53 380.86v5.6M217.43 380.86v5.6M218.13 381.21v5.6M218.84 381.21v5.6M219.63 381.21v5.6M220.44 382.16v5.6M221.31 382.16v5.6M222.29 382.16v5.6M223.44 382.16v5.6M224.27 382.78v5.6M225.04 382.78v5.6M226.03 382.78v5.6M227.25 383.23v5.6M228.04 383.23v5.6M229.02 383.86v5.6M230.24 383.86v5.6M231.1 383.86v5.6M231.96 384.38v5.6M232.71 384.38v5.6M234.04 384.38v5.6M235.32 384.8v5.6M237.45 384.8v5.6M238.51 387v5.6M239.59 387v5.6M240.52 387v5.6M241.7 387v5.6M243.4 390.3v5.6M244.21 390.3v5.6M245.37 390.3v5.6M246.69 390.3v5.6M248.8 390.3v5.6M249.85 390.3v5.6M250.83 390.3v5.6M251.85 390.3v5.6M253.22 390.3v5.6M254.38 390.3v5.6M255.73 390.3v5.6M256.46 390.3v5.6M257.35 390.3v5.6M258.15 390.3v5.6M259.54 390.3v5.6M260.31 390.3v5.6M261.16 390.3v5.6M262.48 394.4v5.6M263.8 394.4v5.6M265.13 394.4v5.6M266.46 394.4v5.6M267.39 394.4v5.6M268.46 394.4v5.6M269.59 394.4v5.6M270.85 394.4v5.6M272.23 394.4v5.6M272.9 394.4v5.6M273.78 394.4v5.6M275.62 394.4v5.6M277.31 394.4v5.6M278.25 394.4v5.6M278.91 394.4v5.6M279.85 394.4v5.6M280.76 394.4v5.6M281.48 394.4v5.6M282.14 394.4v5.6M283.28 394.4v5.6M285.32 394.4v5.6M286.59 394.4v5.6M287.26 394.4v5.6M288.61 394.4v5.6M289.49 394.4v5.6M290.34 394.4v5.6M291.29 394.4v5.6M292.09 394.4v5.6M292.77 394.4v5.6M293.99 394.4v5.6M294.91 394.4v5.6M295.98 394.4v5.6M296.9 394.4v5.6M298.17 394.4v5.6M300.5 394.4v5.6M301.59 394.4v5.6M302.37 394.4v5.6M303.12 394.4v5.6M304 394.4v5.6M304.81 394.4v5.6M305.99 394.4v5.6M306.89 394.4v5.6M307.82 394.4v5.6M308.79 394.4v5.6M309.87 394.4v5.6M311.2 394.4v5.6M312.91 394.4v5.6M314.23 394.4v5.6M315.03 394.4v5.6M316.23 394.4v5.6" stroke="#1E90FF" stroke-width="1.1" fill="none" opacity="0.9"/><path d="M323.8 397.5H325.8" stroke="#1E90FF" stroke-width="2.2" fill="none"/><path d="M328.6 394.7v5.6M325.8 397.5h5.6" stroke="#1E90FF" stroke-width="1.2" fill="none" opacity="0.9"/></g>
<g font-family="'Liberation Sans', sans-serif"><path d="M404.1 358.87V650.03H677.5" fill="none" stroke="#262626" stroke-width="1.4" stroke-linejoin="round"/><text x="398.7" y="376.1" text-anchor="end" font-size="10.8" fill="#000">100.0</text><text x="398.7" y="442.28" text-anchor="end" font-size="10.8" fill="#000">97.5</text><text x="398.7" y="508.45" text-anchor="end" font-size="10.8" fill="#000">95.0</text><text x="398.7" y="574.62" text-anchor="end" font-size="10.8" fill="#000">92.5</text><text x="398.7" y="640.8" text-anchor="end" font-size="10.8" fill="#000">90.0</text><text x="416.5" y="663.33" text-anchor="middle" font-size="10.8" fill="#000">0</text><text x="433.07" y="663.33" text-anchor="middle" font-size="10.8" fill="#000">1</text><text x="449.64" y="663.33" text-anchor="middle" font-size="10.8" fill="#000">2</text><text x="466.21" y="663.33" text-anchor="middle" font-size="10.8" fill="#000">3</text><text x="482.78" y="663.33" text-anchor="middle" font-size="10.8" fill="#000">4</text><text x="499.35" y="663.33" text-anchor="middle" font-size="10.8" fill="#000">5</text><text x="515.92" y="663.33" text-anchor="middle" font-size="10.8" fill="#000">6</text><text x="532.49" y="663.33" text-anchor="middle" font-size="10.8" fill="#000">7</text><text x="549.06" y="663.33" text-anchor="middle" font-size="10.8" fill="#000">8</text><text x="565.63" y="663.33" text-anchor="middle" font-size="10.8" fill="#000">9</text><text x="582.2" y="663.33" text-anchor="middle" font-size="10.8" fill="#000">10</text><text x="598.77" y="663.33" text-anchor="middle" font-size="10.8" fill="#000">11</text><text x="615.34" y="663.33" text-anchor="middle" font-size="10.8" fill="#000">12</text><text x="631.91" y="663.33" text-anchor="middle" font-size="10.8" fill="#000">13</text><text x="648.48" y="663.33" text-anchor="middle" font-size="10.8" fill="#000">14</text><text x="665.05" y="663.33" text-anchor="middle" font-size="10.8" fill="#000">15</text><path d="M400.9 372.1H404.1M400.9 438.28H404.1M400.9 504.45H404.1M400.9 570.62H404.1M400.9 636.8H404.1M416.5 650.03V653.23M433.07 650.03V653.23M449.64 650.03V653.23M466.21 650.03V653.23M482.78 650.03V653.23M499.35 650.03V653.23M515.92 650.03V653.23M532.49 650.03V653.23M549.06 650.03V653.23M565.63 650.03V653.23M582.2 650.03V653.23M598.77 650.03V653.23M615.34 650.03V653.23M631.91 650.03V653.23M648.48 650.03V653.23M665.05 650.03V653.23" stroke="#262626" stroke-width="1.1" fill="none"/><text x="540.8" y="676.33" text-anchor="middle" font-size="12" font-weight="bold" fill="#000">Follow-up Time (Years)</text><text transform="translate(365.7 504.3) rotate(-90)" text-anchor="middle" font-size="12" font-weight="bold" fill="#000">Survival Probability (%)</text><text x="416.1" y="443.7" font-size="13" fill="#000">p = 0.35</text><text transform="translate(418.7 532.6) scale(1.025 1)" font-size="12.3" fill="#000">Factor4</text><path d="M420 548.3H432.8" stroke="#FF6347" stroke-width="2.2" fill="none"/><path d="M426.8 545.6v5.4M424.1 548.3h5.4" stroke="#FF6347" stroke-width="1.2" fill="none"/><text transform="translate(440.7 552.6) scale(1.04 1)" font-size="12.3" fill="#000">&lt;-0.84573</text><path d="M420 564.25H432.8" stroke="#FFA500" stroke-width="2.2" fill="none" stroke-dasharray="4 4"/><path d="M426.8 561.55v5.4M424.1 564.25h5.4" stroke="#FFA500" stroke-width="1.2" fill="none"/><text transform="translate(440.7 568.55) scale(1.04 1)" font-size="12.3" fill="#000">&lt;-0.30364</text><path d="M420 580.2H432.8" stroke="#32CD32" stroke-width="2.2" fill="none" stroke-dasharray="8 4"/><path d="M426.8 577.5v5.4M424.1 580.2h5.4" stroke="#32CD32" stroke-width="1.2" fill="none"/><text transform="translate(440.7 584.5) scale(1.04 1)" font-size="12.3" fill="#000">&lt;0.42924</text><path d="M420 596.15H432.8" stroke="#1E90FF" stroke-width="2.2" fill="none" stroke-dasharray="8 8"/><path d="M426.8 593.45v5.4M424.1 596.15h5.4" stroke="#1E90FF" stroke-width="1.2" fill="none"/><text transform="translate(440.7 600.45) scale(1.04 1)" font-size="12.3" fill="#000">≥0.42924</text><path d="M416.5 372.1H437.35V372.74H444.57V373.37H450.12V373.79H455.65V374.21H457.82V374.52H463.79V375.06H470.13V375.51H476.45V376.09H481.51V376.7H486.6V377.22H490.69V377.81H495.7V378.31H497.68V378.65H503.06V379.19H508.71V379.8H511.96V380.17H515.7V380.56H519.63V381.02H522.6V381.51H525.67V381.98H528.65V382.36H531.01V382.91H536.28V383.82H540.13V384.24H542.82V384.76H546.2V385.26H551.13V385.92H553.69V386.3H557.95V387.21H561.31V387.82H563.85V388.58H567V388.96H568.6V389.97H572.45V390.67H574.98V391.65H578.56V392.59H581.97V393.07H583.7V393.99H587.07V394.97H590.35V396.73H593.86V398.46H597.31V399.53H599.46V400.12H602.44V400.65H608.46V401.25H610.9V401.61H613.55V402.23H616.44V403.25H619.84V403.99H622.29V404.96H625.38V406.48H628.99V406.9H668" stroke="#FF6347" stroke-width="2.2" fill="none"/><path d="M416.5 372.1H434V372.41H440.27V372.79H445.46V373.23H450.87V373.74H457.92V374.17H461.82V374.57H466.05V375H471.43V375.47H477.27V375.96H480.47V376.34H483.5V376.66H486.05V377H488.77V377.45H492.36V377.92H496.18V378.22H498.59V378.58H501.81V378.97H507.86V379.52H512.78V379.89H517.04V380.34H519.38V380.94H525.13V381.47H526.71V381.99H529.92V382.43H532.66V382.91H535.68V383.36H538.5V383.69H540.55V384.23H544.06V384.8H547.76V385.4H551.64V385.75H553.86V386.29H557.34V387.16H561.02V387.95H562.77V389.32H565.83V390.52H568.56V391.47H570.92V392.4H573.26V393.3H578.54V393.93H583.47V394.6H586.86V394.93H589.42V395.4H591.09V396.38H593.74V397.23H596.03V398.19H598.63V398.93H604.32V399.28H606.21V399.65H610.13V399.95H613.43V400.62H616.41V401.46H618.67V402.36H621.1V403.8H625V405.46H628.08V406.5H668" stroke="#FFA500" stroke-width="2.2" fill="none" stroke-dasharray="4 4"/><path d="M416.5 372.1H441.53V372.43H452.35V372.78H461.49V373.1H470.95V373.45H480.48V374H485.78V374.5H492.1V374.92H497.38V375.5H503.41V376.12H507.17V376.42H512.68V376.91H517.21V377.28H518.8V377.68H524.3V378.42H528.14V378.88H533.66V379.54H537.14V380H540.72V380.45H546.1V380.97H547.95V381.44H551.38V381.81H556.32V382.35H558.16V382.74H560.77V383.06H562.47V383.64H567.18V384.42H569.83V385.07H573.36V385.39H575.05V385.98H578.27V386.3H580V387.2H583.74V387.93H586.78V388.43H588.88V389.25H592.28V389.92H595.03V391.02H596.55V393.22H599.61V393.68H606.5V394.03H614.84V394.72H616.5V395.82H620.2V397.35H622.74V398.7H668" stroke="#32CD32" stroke-width="2.2" fill="none" stroke-dasharray="8 4"/><path d="M416.5 372.1H436.63V372.52H438.57V372.88H444.21V373.23H448.96V373.75H451.85V374.07H455.38V374.42H461.77V374.78H463.28V375.1H470.19V375.59H472.86V375.89H479.83V376.39H481.52V376.72H484.19V377.15H487.62V377.53H490.65V377.96H494.1V378.27H498.87V378.77H502.2V379.21H507.85V379.68H511.84V380.1H513.96V380.48H519.35V381.23H523.29V381.86H528.88V382.42H532.61V383.1H534.99V383.43H537.04V383.82H539.49V384.43H543.45V384.89H546.36V385.19H548.33V385.56H550.71V386.08H554.04V386.68H557.93V387.04H564.19V387.44H568.57V387.85H575.64V388.28H580.79V388.74H586.39V389.17H593.17V389.55H598.31V390.05H604.94V390.38H608.91V391.75H612.61V393.15H615.47V395.6H618.79V397.36H621.52V398.2H668" stroke="#1E90FF" stroke-width="2.2" fill="none" stroke-dasharray="8 8"/><path d="M435.06 369.3v5.6M437.41 369.94v5.6M439.37 369.94v5.6M441.83 369.94v5.6M444.69 370.57v5.6M448.19 370.57v5.6M451.65 370.99v5.6M454.46 370.99v5.6M456.51 371.41v5.6M458.82 371.72v5.6M460.58 371.72v5.6M462.2 371.72v5.6M463.85 372.26v5.6M465.61 372.26v5.6M467.63 372.26v5.6M469.46 372.26v5.6M471.01 372.71v5.6M472.24 372.71v5.6M474.13 372.71v5.6M476.25 372.71v5.6M478.14 373.29v5.6M479.81 373.29v5.6M480.96 373.29v5.6M482.25 373.9v5.6M483.45 373.9v5.6M485.48 373.9v5.6M486.84 374.42v5.6M488.53 374.42v5.6M489.57 374.42v5.6M490.26 374.42v5.6M491.61 375.01v5.6M493.66 375.01v5.6M494.9 375.01v5.6M495.92 375.51v5.6M496.78 375.51v5.6M497.91 375.85v5.6M498.88 375.85v5.6M499.65 375.85v5.6M500.43 375.85v5.6M502.94 375.85v5.6M504.24 376.39v5.6M505.44 376.39v5.6M506.61 376.39v5.6M507.96 376.39v5.6M509.36 377v5.6M510.01 377v5.6M510.85 377v5.6M511.58 377v5.6M512.75 377.37v5.6M513.92 377.37v5.6M514.7 377.37v5.6M515.92 377.76v5.6M516.81 377.76v5.6M517.92 377.76v5.6M518.59 377.76v5.6M519.77 378.22v5.6M520.61 378.22v5.6M521.33 378.22v5.6M522.33 378.22v5.6M523.31 378.71v5.6M523.97 378.71v5.6M524.68 378.71v5.6M525.5 378.71v5.6M526.56 379.18v5.6M527.75 379.18v5.6M528.73 379.56v5.6M529.88 379.56v5.6M531.96 380.11v5.6M533.09 380.11v5.6M533.75 380.11v5.6M534.89 380.11v5.6M536.2 380.11v5.6M537.12 381.02v5.6M537.81 381.02v5.6M539.04 381.02v5.6M539.82 381.02v5.6M540.67 381.44v5.6M542.85 381.96v5.6M544.01 381.96v5.6M545.38 381.96v5.6M546.34 382.46v5.6M547.55 382.46v5.6M548.44 382.46v5.6M549.41 382.46v5.6M550.75 382.46v5.6M552.09 383.12v5.6M553.09 383.12v5.6M553.88 383.5v5.6M555.24 383.5v5.6M556.62 383.5v5.6M557.58 383.5v5.6M558.53 384.41v5.6M559.92 384.41v5.6M560.62 384.41v5.6M561.42 385.02v5.6M563.14 385.02v5.6M564.54 385.78v5.6M565.8 385.78v5.6M566.69 385.78v5.6M567.55 386.16v5.6M568.47 386.16v5.6M569.48 387.17v5.6M570.83 387.17v5.6M571.84 387.17v5.6M572.54 387.87v5.6M573.86 387.87v5.6M574.78 387.87v5.6M575.85 388.85v5.6M577 388.85v5.6M578.3 388.85v5.6M579.64 389.79v5.6M580.59 389.79v5.6M581.65 389.79v5.6M582.75 390.27v5.6M583.52 390.27v5.6M584.29 391.19v5.6M585.18 391.19v5.6M586.53 391.19v5.6M587.39 392.17v5.6M588.11 392.17v5.6M588.78 392.17v5.6M589.95 392.17v5.6M591.24 393.93v5.6M592.32 393.93v5.6M593.41 393.93v5.6M595.58 395.66v5.6M596.79 395.66v5.6M597.89 396.73v5.6M599.11 396.73v5.6M600.04 397.32v5.6M600.89 397.32v5.6M601.94 397.32v5.6M602.97 397.85v5.6M603.67 397.85v5.6M605.59 397.85v5.6M606.45 397.85v5.6M607.34 397.85v5.6M608.27 397.85v5.6M609.66 398.45v5.6M611.43 398.81v5.6M612.54 398.81v5.6M613.88 399.43v5.6M615.2 399.43v5.6M616.24 399.43v5.6M616.95 400.45v5.6M618.08 400.45v5.6M619.24 400.45v5.6M620.21 401.19v5.6M621.41 401.19v5.6M622.28 401.19v5.6M622.95 402.16v5.6M623.67 402.16v5.6M625.34 402.16v5.6M626.41 403.68v5.6M627.2 403.68v5.6M629.47 404.1v5.6M630.55 404.1v5.6M632.34 404.1v5.6M633.53 404.1v5.6M634.32 404.1v5.6M636.64 404.1v5.6M637.39 404.1v5.6M638.75 404.1v5.6M640.42 404.1v5.6M641.15 404.1v5.6M642.23 404.1v5.6M643.18 404.1v5.6M643.83 404.1v5.6M644.52 404.1v5.6M645.17 404.1v5.6M646.38 404.1v5.6M647.12 404.1v5.6M648.21 404.1v5.6M649.29 404.1v5.6M650.09 404.1v5.6M651.2 404.1v5.6M652.18 404.1v5.6M652.91 404.1v5.6M653.84 404.1v5.6M654.57 404.1v5.6M655.66 404.1v5.6M656.8 404.1v5.6M658.19 404.1v5.6M659.19 404.1v5.6M660.3 404.1v5.6M662.86 404.1v5.6M663.83 404.1v5.6M665.18 404.1v5.6M666.97 404.1v5.6M667.64 404.1v5.6" stroke="#FF6347" stroke-width="1.1" fill="none" opacity="0.9"/><path d="M434.71 369.61v5.6M436.28 369.61v5.6M439.6 369.61v5.6M442.36 369.99v5.6M445.65 370.43v5.6M448.66 370.43v5.6M450.19 370.43v5.6M453.11 370.94v5.6M455.73 370.94v5.6M458.67 371.37v5.6M461.85 371.77v5.6M463.94 371.77v5.6M466.09 372.2v5.6M468.45 372.2v5.6M469.56 372.2v5.6M470.99 372.2v5.6M472.36 372.67v5.6M474.62 372.67v5.6M475.72 372.67v5.6M477.44 373.16v5.6M479.69 373.16v5.6M480.7 373.54v5.6M482.88 373.54v5.6M484.32 373.86v5.6M485.24 373.86v5.6M486.63 374.2v5.6M487.74 374.2v5.6M488.7 374.2v5.6M489.54 374.65v5.6M490.52 374.65v5.6M491.22 374.65v5.6M492.2 374.65v5.6M493.35 375.12v5.6M494.41 375.12v5.6M495.42 375.12v5.6M496.69 375.42v5.6M497.52 375.42v5.6M498.27 375.42v5.6M500.5 375.78v5.6M501.74 375.78v5.6M502.86 376.17v5.6M503.71 376.17v5.6M504.54 376.17v5.6M505.63 376.17v5.6M506.99 376.17v5.6M507.83 376.17v5.6M509.04 376.72v5.6M510.34 376.72v5.6M511.09 376.72v5.6M512.33 376.72v5.6M513.34 377.09v5.6M514.58 377.09v5.6M515.94 377.09v5.6M516.8 377.09v5.6M518.09 377.54v5.6M520.58 378.14v5.6M521.95 378.14v5.6M523.24 378.14v5.6M524.12 378.14v5.6M525.43 378.67v5.6M527.2 379.19v5.6M528.52 379.19v5.6M529.37 379.19v5.6M530.51 379.63v5.6M531.2 379.63v5.6M532 379.63v5.6M532.7 380.11v5.6M533.47 380.11v5.6M534.5 380.11v5.6M535.8 380.56v5.6M537.12 380.56v5.6M538.46 380.56v5.6M539.5 380.89v5.6M540.72 381.43v5.6M541.61 381.43v5.6M542.69 381.43v5.6M543.76 381.43v5.6M544.6 382v5.6M545.63 382v5.6M546.94 382v5.6M548.02 382.6v5.6M549.22 382.6v5.6M550.57 382.6v5.6M551.85 382.95v5.6M552.68 382.95v5.6M553.96 383.49v5.6M555.1 383.49v5.6M556.38 383.49v5.6M557.53 384.36v5.6M558.51 384.36v5.6M559.2 384.36v5.6M559.92 384.36v5.6M560.82 384.36v5.6M561.56 385.15v5.6M562.21 385.15v5.6M563.57 386.52v5.6M564.5 386.52v5.6M565.23 386.52v5.6M566.17 387.72v5.6M567.24 387.72v5.6M568.37 387.72v5.6M569.2 388.67v5.6M570.39 388.67v5.6M572.41 389.6v5.6M573.31 390.5v5.6M574.27 390.5v5.6M575.48 390.5v5.6M576.66 390.5v5.6M578.05 390.5v5.6M579.08 391.13v5.6M580.13 391.13v5.6M581.11 391.13v5.6M581.91 391.13v5.6M583.01 391.13v5.6M584.3 391.8v5.6M585.6 391.8v5.6M586.73 391.8v5.6M587.77 392.13v5.6M588.97 392.13v5.6M591.46 393.58v5.6M592.22 393.58v5.6M593.17 393.58v5.6M594.05 394.43v5.6M595.36 394.43v5.6M596.5 395.39v5.6M597.8 395.39v5.6M598.5 395.39v5.6M599.19 396.13v5.6M600.48 396.13v5.6M601.44 396.13v5.6M602.49 396.13v5.6M603.29 396.13v5.6M604.04 396.13v5.6M606.21 396.85v5.6M607.51 396.85v5.6M609.57 396.85v5.6M610.7 397.15v5.6M611.88 397.15v5.6M612.64 397.15v5.6M613.86 397.82v5.6M615.61 397.82v5.6M616.91 398.66v5.6M617.93 398.66v5.6M618.89 399.56v5.6M619.54 399.56v5.6M620.5 399.56v5.6M621.85 401v5.6M622.73 401v5.6M623.93 401v5.6M624.99 401v5.6M626.14 402.66v5.6M627.13 402.66v5.6M628.31 403.7v5.6M629.56 403.7v5.6M630.64 403.7v5.6M631.46 403.7v5.6M632.74 403.7v5.6M633.76 403.7v5.6M635.06 403.7v5.6M636.04 403.7v5.6M637.05 403.7v5.6M637.83 403.7v5.6M638.49 403.7v5.6M639.71 403.7v5.6M640.67 403.7v5.6M641.56 403.7v5.6M642.27 403.7v5.6M643.41 403.7v5.6M644.74 403.7v5.6M646.78 403.7v5.6M647.67 403.7v5.6M648.47 403.7v5.6M649.55 403.7v5.6M650.69 403.7v5.6M651.34 403.7v5.6M652.68 403.7v5.6M653.33 403.7v5.6M654.49 403.7v5.6M655.7 403.7v5.6M656.93 403.7v5.6M657.73 403.7v5.6M658.75 403.7v5.6M659.51 403.7v5.6M660.68 403.7v5.6M662.08 403.7v5.6M663.79 403.7v5.6M666.28 403.7v5.6M667.3 403.7v5.6" stroke="#FFA500" stroke-width="1.1" fill="none" opacity="0.9"/><path d="M435.46 369.3v5.6M438.45 369.3v5.6M439.99 369.3v5.6M442.94 369.63v5.6M445.23 369.63v5.6M447.95 369.63v5.6M450.95 369.63v5.6M454.28 369.98v5.6M457.35 369.98v5.6M459.07 369.98v5.6M461.43 369.98v5.6M462.63 370.3v5.6M464.13 370.3v5.6M465.42 370.3v5.6M467.69 370.3v5.6M469.86 370.3v5.6M472.03 370.65v5.6M473.55 370.65v5.6M475.03 370.65v5.6M476.31 370.65v5.6M477.92 370.65v5.6M479.66 370.65v5.6M481.43 371.2v5.6M483.73 371.2v5.6M485.31 371.2v5.6M487.4 371.7v5.6M488.53 371.7v5.6M489.85 371.7v5.6M490.61 371.7v5.6M491.31 371.7v5.6M492.08 371.7v5.6M493.33 372.12v5.6M494.05 372.12v5.6M494.93 372.12v5.6M495.86 372.12v5.6M496.67 372.12v5.6M497.68 372.7v5.6M498.63 372.7v5.6M499.76 372.7v5.6M500.56 372.7v5.6M502.98 372.7v5.6M503.63 373.32v5.6M504.88 373.32v5.6M506.68 373.32v5.6M507.87 373.62v5.6M508.93 373.62v5.6M510.11 373.62v5.6M511.32 373.62v5.6M512.5 373.62v5.6M513.85 374.11v5.6M514.81 374.11v5.6M515.68 374.11v5.6M516.51 374.11v5.6M517.31 374.48v5.6M517.96 374.48v5.6M520.27 374.88v5.6M521.47 374.88v5.6M522.36 374.88v5.6M523.09 374.88v5.6M523.83 374.88v5.6M524.87 375.62v5.6M525.53 375.62v5.6M526.35 375.62v5.6M527.3 375.62v5.6M529.2 376.08v5.6M529.92 376.08v5.6M530.67 376.08v5.6M531.64 376.08v5.6M532.61 376.08v5.6M533.58 376.08v5.6M534.44 376.74v5.6M535.3 376.74v5.6M536.41 376.74v5.6M537.24 377.2v5.6M538.47 377.2v5.6M539.22 377.2v5.6M540.06 377.2v5.6M542.16 377.65v5.6M542.94 377.65v5.6M543.92 377.65v5.6M544.68 377.65v5.6M545.39 377.65v5.6M546.51 378.17v5.6M547.9 378.17v5.6M549.13 378.64v5.6M550.48 378.64v5.6M551.62 379.01v5.6M552.82 379.01v5.6M554.21 379.01v5.6M555.22 379.01v5.6M556.26 379.01v5.6M558.4 379.94v5.6M559.42 379.94v5.6M560.52 379.94v5.6M562.82 380.84v5.6M563.54 380.84v5.6M564.91 380.84v5.6M566.14 380.84v5.6M566.92 380.84v5.6M568.14 381.62v5.6M569.88 382.27v5.6M570.81 382.27v5.6M571.66 382.27v5.6M573 382.27v5.6M573.94 382.59v5.6M574.97 382.59v5.6M576.21 383.18v5.6M577.35 383.18v5.6M578.68 383.5v5.6M580.04 384.4v5.6M582.64 384.4v5.6M583.85 385.13v5.6M585.06 385.13v5.6M585.94 385.13v5.6M586.6 385.13v5.6M587.76 385.63v5.6M588.92 386.45v5.6M589.57 386.45v5.6M590.77 386.45v5.6M591.88 386.45v5.6M592.77 387.12v5.6M593.86 387.12v5.6M594.7 387.12v5.6M595.73 388.22v5.6M596.56 390.42v5.6M597.95 390.42v5.6M598.95 390.42v5.6M600.27 390.88v5.6M601.37 390.88v5.6M602.33 390.88v5.6M603.66 390.88v5.6M604.99 390.88v5.6M606.26 390.88v5.6M606.94 391.23v5.6M608 391.23v5.6M608.92 391.23v5.6M610.56 391.23v5.6M611.33 391.23v5.6M612.24 391.23v5.6M613.5 391.23v5.6M614.29 391.23v5.6M615.31 391.92v5.6M616.19 391.92v5.6M617.23 393.02v5.6M618.15 393.02v5.6M619.3 393.02v5.6M620.07 393.02v5.6M620.97 394.55v5.6M621.76 394.55v5.6M622.73 394.55v5.6M624.11 395.9v5.6M625.42 395.9v5.6M626.33 395.9v5.6M627.3 395.9v5.6M628.34 395.9v5.6M629.19 395.9v5.6M630.22 395.9v5.6M631.56 395.9v5.6M632.72 395.9v5.6M633.46 395.9v5.6M634.33 395.9v5.6M635.28 395.9v5.6M636.34 395.9v5.6M637.41 395.9v5.6M638.59 395.9v5.6M639.77 395.9v5.6M640.95 395.9v5.6M642.11 395.9v5.6M642.82 395.9v5.6M643.76 395.9v5.6M644.82 395.9v5.6M645.77 395.9v5.6M647.54 395.9v5.6M648.28 395.9v5.6M648.97 395.9v5.6M650.03 395.9v5.6M650.74 395.9v5.6M651.74 395.9v5.6M652.87 395.9v5.6M655.11 395.9v5.6M656.01 395.9v5.6M657.1 395.9v5.6M658.41 395.9v5.6M659.35 395.9v5.6M660.47 395.9v5.6M661.67 395.9v5.6M662.75 395.9v5.6M664.78 395.9v5.6M665.87 395.9v5.6M666.86 395.9v5.6" stroke="#32CD32" stroke-width="1.1" fill="none" opacity="0.9"/><path d="M434.13 369.3v5.6M435.81 369.3v5.6M437.5 369.72v5.6M438.65 370.08v5.6M440.38 370.08v5.6M441.57 370.08v5.6M443.06 370.08v5.6M444.26 370.43v5.6M445.31 370.43v5.6M446.92 370.43v5.6M448.16 370.43v5.6M449.74 370.95v5.6M451.38 370.95v5.6M452.33 371.27v5.6M453.75 371.27v5.6M455.48 371.62v5.6M456.43 371.62v5.6M457.69 371.62v5.6M458.95 371.62v5.6M459.86 371.62v5.6M461.14 371.62v5.6M462.89 371.98v5.6M463.69 372.3v5.6M464.89 372.3v5.6M466.24 372.3v5.6M467.41 372.3v5.6M468.14 372.3v5.6M468.8 372.3v5.6M469.57 372.3v5.6M470.58 372.79v5.6M472.51 372.79v5.6M473.22 373.09v5.6M473.91 373.09v5.6M474.74 373.09v5.6M475.84 373.09v5.6M477.09 373.09v5.6M478.46 373.09v5.6M480.29 373.59v5.6M481.59 373.92v5.6M482.25 373.92v5.6M483.31 373.92v5.6M485.26 374.35v5.6M485.94 374.35v5.6M487.9 374.73v5.6M488.81 374.73v5.6M489.86 374.73v5.6M490.93 375.16v5.6M491.84 375.16v5.6M492.68 375.16v5.6M493.34 375.16v5.6M494.36 375.47v5.6M496.03 375.47v5.6M496.78 375.47v5.6M498.11 375.47v5.6M498.94 375.97v5.6M500.17 375.97v5.6M501 375.97v5.6M501.93 375.97v5.6M502.78 376.41v5.6M504.02 376.41v5.6M505.38 376.41v5.6M506.04 376.41v5.6M507.08 376.41v5.6M508 376.88v5.6M509.18 376.88v5.6M510.41 376.88v5.6M511.7 376.88v5.6M512.44 377.3v5.6M513.49 377.3v5.6M514.86 377.68v5.6M515.8 377.68v5.6M516.97 377.68v5.6M518.24 377.68v5.6M520.15 378.43v5.6M521.48 378.43v5.6M522.55 378.43v5.6M523.5 379.06v5.6M524.71 379.06v5.6M526.09 379.06v5.6M526.89 379.06v5.6M527.89 379.06v5.6M528.6 379.06v5.6M529.67 379.62v5.6M530.61 379.62v5.6M532.25 379.62v5.6M533.39 380.3v5.6M534.55 380.3v5.6M535.92 380.63v5.6M537.1 381.02v5.6M538.01 381.02v5.6M539.8 381.63v5.6M540.52 381.63v5.6M541.34 381.63v5.6M542.14 381.63v5.6M543.22 381.63v5.6M544.23 382.09v5.6M545.05 382.09v5.6M547.19 382.39v5.6M548.96 382.76v5.6M551.49 383.28v5.6M552.31 383.28v5.6M553.56 383.28v5.6M554.7 383.88v5.6M555.77 383.88v5.6M557.03 383.88v5.6M558.3 384.24v5.6M558.97 384.24v5.6M560.25 384.24v5.6M561.19 384.24v5.6M561.88 384.24v5.6M563.24 384.24v5.6M564.32 384.64v5.6M565.69 384.64v5.6M566.86 384.64v5.6M567.68 384.64v5.6M568.7 385.05v5.6M570.01 385.05v5.6M571.33 385.05v5.6M572.03 385.05v5.6M572.89 385.05v5.6M574.06 385.05v5.6M575.31 385.05v5.6M576.54 385.48v5.6M577.44 385.48v5.6M579.28 385.48v5.6M580.63 385.48v5.6M581.87 385.94v5.6M582.64 385.94v5.6M583.43 385.94v5.6M584.51 385.94v5.6M585.68 385.94v5.6M586.44 386.37v5.6M587.39 386.37v5.6M588.43 386.37v5.6M589.29 386.37v5.6M591.65 386.37v5.6M592.51 386.37v5.6M593.49 386.75v5.6M594.78 386.75v5.6M596.78 386.75v5.6M598.05 386.75v5.6M599.13 387.25v5.6M600.07 387.25v5.6M601.25 387.25v5.6M602.51 387.25v5.6M603.87 387.25v5.6M605.22 387.58v5.6M606.54 387.58v5.6M607.67 387.58v5.6M608.4 387.58v5.6M609.05 388.95v5.6M610.25 388.95v5.6M611.47 388.95v5.6M612.27 388.95v5.6M613.48 390.35v5.6M614.15 390.35v5.6M615.23 390.35v5.6M616.17 392.8v5.6M617.55 392.8v5.6M618.48 392.8v5.6M619.34 394.56v5.6M620.28 394.56v5.6M621.19 394.56v5.6M622.28 395.4v5.6M623.41 395.4v5.6M624.2 395.4v5.6M625.57 395.4v5.6M626.56 395.4v5.6M627.31 395.4v5.6M627.99 395.4v5.6M629.28 395.4v5.6M630.59 395.4v5.6M631.54 395.4v5.6M632.93 395.4v5.6M634.04 395.4v5.6M635.82 395.4v5.6M636.54 395.4v5.6M637.69 395.4v5.6M638.98 395.4v5.6M640.1 395.4v5.6M641.29 395.4v5.6M642.48 395.4v5.6M645 395.4v5.6M646.14 395.4v5.6M646.96 395.4v5.6M647.66 395.4v5.6M649.03 395.4v5.6M649.7 395.4v5.6M652.08 395.4v5.6M653.16 395.4v5.6M654.37 395.4v5.6M655.65 395.4v5.6M656.78 395.4v5.6M658.14 395.4v5.6M660.66 395.4v5.6M662.81 395.4v5.6M663.52 395.4v5.6M664.61 395.4v5.6M665.61 395.4v5.6M666.27 395.4v5.6M666.95 395.4v5.6" stroke="#1E90FF" stroke-width="1.1" fill="none" opacity="0.9"/><path d="M668 398.4H670M673 398.4H677.8" stroke="#32CD32" stroke-width="2.2" fill="none"/><path d="M680.4 395.6v5.6M677.6 398.4h5.6" stroke="#32CD32" stroke-width="1.2" fill="none" opacity="0.9"/></g>
<g font-family="'Liberation Sans', sans-serif"><path d="M226.9 724.07V1015.23H500.3" fill="none" stroke="#262626" stroke-width="1.4" stroke-linejoin="round"/><text x="221.5" y="741.3" text-anchor="end" font-size="10.8" fill="#000">100.0</text><text x="221.5" y="807.47" text-anchor="end" font-size="10.8" fill="#000">97.5</text><text x="221.5" y="873.65" text-anchor="end" font-size="10.8" fill="#000">95.0</text><text x="221.5" y="939.82" text-anchor="end" font-size="10.8" fill="#000">92.5</text><text x="221.5" y="1006" text-anchor="end" font-size="10.8" fill="#000">90.0</text><text x="239.3" y="1028.53" text-anchor="middle" font-size="10.8" fill="#000">0</text><text x="255.87" y="1028.53" text-anchor="middle" font-size="10.8" fill="#000">1</text><text x="272.44" y="1028.53" text-anchor="middle" font-size="10.8" fill="#000">2</text><text x="289.01" y="1028.53" text-anchor="middle" font-size="10.8" fill="#000">3</text><text x="305.58" y="1028.53" text-anchor="middle" font-size="10.8" fill="#000">4</text><text x="322.15" y="1028.53" text-anchor="middle" font-size="10.8" fill="#000">5</text><text x="338.72" y="1028.53" text-anchor="middle" font-size="10.8" fill="#000">6</text><text x="355.29" y="1028.53" text-anchor="middle" font-size="10.8" fill="#000">7</text><text x="371.86" y="1028.53" text-anchor="middle" font-size="10.8" fill="#000">8</text><text x="388.43" y="1028.53" text-anchor="middle" font-size="10.8" fill="#000">9</text><text x="405" y="1028.53" text-anchor="middle" font-size="10.8" fill="#000">10</text><text x="421.57" y="1028.53" text-anchor="middle" font-size="10.8" fill="#000">11</text><text x="438.14" y="1028.53" text-anchor="middle" font-size="10.8" fill="#000">12</text><text x="454.71" y="1028.53" text-anchor="middle" font-size="10.8" fill="#000">13</text><text x="471.28" y="1028.53" text-anchor="middle" font-size="10.8" fill="#000">14</text><text x="487.85" y="1028.53" text-anchor="middle" font-size="10.8" fill="#000">15</text><path d="M223.7 737.3H226.9M223.7 803.47H226.9M223.7 869.65H226.9M223.7 935.82H226.9M223.7 1002H226.9M239.3 1015.23V1018.43M255.87 1015.23V1018.43M272.44 1015.23V1018.43M289.01 1015.23V1018.43M305.58 1015.23V1018.43M322.15 1015.23V1018.43M338.72 1015.23V1018.43M355.29 1015.23V1018.43M371.86 1015.23V1018.43M388.43 1015.23V1018.43M405 1015.23V1018.43M421.57 1015.23V1018.43M438.14 1015.23V1018.43M454.71 1015.23V1018.43M471.28 1015.23V1018.43M487.85 1015.23V1018.43" stroke="#262626" stroke-width="1.1" fill="none"/><text x="363.6" y="1041.53" text-anchor="middle" font-size="12" font-weight="bold" fill="#000">Follow-up Time (Years)</text><text transform="translate(188.5 869.5) rotate(-90)" text-anchor="middle" font-size="12" font-weight="bold" fill="#000">Survival Probability (%)</text><text x="238.9" y="808.9" font-size="13" fill="#000">p = 0.34</text><text transform="translate(241.5 897.8) scale(1.025 1)" font-size="12.3" fill="#000">Factor5</text><path d="M242.8 913.5H255.6" stroke="#FF6347" stroke-width="2.2" fill="none"/><path d="M249.6 910.8v5.4M246.9 913.5h5.4" stroke="#FF6347" stroke-width="1.2" fill="none"/><text transform="translate(263.5 917.8) scale(1.04 1)" font-size="12.3" fill="#000">&lt;-0.53123</text><path d="M242.8 929.45H255.6" stroke="#FFA500" stroke-width="2.2" fill="none" stroke-dasharray="4 4"/><path d="M249.6 926.75v5.4M246.9 929.45h5.4" stroke="#FFA500" stroke-width="1.2" fill="none"/><text transform="translate(263.5 933.75) scale(1.04 1)" font-size="12.3" fill="#000">&lt;-0.20846</text><path d="M242.8 945.4H255.6" stroke="#32CD32" stroke-width="2.2" fill="none" stroke-dasharray="8 4"/><path d="M249.6 942.7v5.4M246.9 945.4h5.4" stroke="#32CD32" stroke-width="1.2" fill="none"/><text transform="translate(263.5 949.7) scale(1.04 1)" font-size="12.3" fill="#000">&lt;0.25751</text><path d="M242.8 961.35H255.6" stroke="#1E90FF" stroke-width="2.2" fill="none" stroke-dasharray="8 8"/><path d="M249.6 958.65v5.4M246.9 961.35h5.4" stroke="#1E90FF" stroke-width="1.2" fill="none"/><text transform="translate(263.5 965.65) scale(1.04 1)" font-size="12.3" fill="#000">≥0.25751</text><path d="M239.5 737.3H259.71V737.75H263.37V738.21H268.7V738.77H279.62V739.1H294.52V739.42H305.01V739.78H313.54V740.12H323.32V740.48H331.93V740.97H337.45V741.36H339.11V741.67H346.1V742.14H351.87V742.55H355.57V742.91H359.56V743.25H365.76V743.7H372.1V744.37H375.93V745.18H378.73V745.64H380.31V746.14H382.02V746.66H383.83V747.44H386.32V748.48H389.45V749.76H393.27V750.38H395.15V751.29H397.87V752.34H400.99V753.28H403.66V754.05H405.85V754.74H407.82V755.97H411.35V757.27H415.06V757.99H417.1V758.75H419.29V760H422V761.28H424.55V762.86H427.72V763.69H429.38V764.92H431.76V766.74H435.26V768.26H438.19V769.11H439.83V770.92H443.31V772.63H446.6V773.58H448.42V775.45H451.64V777.2H454.38V777.6H490.1" stroke="#FF6347" stroke-width="2.2" fill="none"/><path d="M239.5 737.3H256.5V737.7H261.46V738.38H264.48V738.77H267.35V739.09H271.52V739.83H275.35V740.22H279.19V740.56H282.58V740.93H287.99V741.42H291.19V741.81H295.06V742.13H298.31V742.49H301.7V742.86H305.09V743.3H311.76V743.92H314.71V744.23H317.55V744.59H322.62V745.06H327.22V745.69H332.77V746.48H336.32V746.97H341.5V747.52H343.72V747.98H348.65V748.66H351.83V748.96H355.79V749.73H359.52V750.45H361.54V752.08H365.43V753.32H368.39V754.15H371.1V754.52H373.97V754.91H378.43V755.49H383.52V756.16H386.39V756.68H390.27V757.12H393.62V757.73H396.31V758.77H399.47V759.7H402.28V760.82H406.25V761.17H408.15V761.76H411.46V762.1H413.33V762.77H417.04V763.34H420.17V763.97H423.15V764.82H427.12V765.38H429.77V765.91H432.24V766.39H434.5V767.12H437.01V768.36H441V769.41H467.45V769.71H488.86V769.8H490.1" stroke="#FFA500" stroke-width="2.2" fill="none" stroke-dasharray="4 4"/><path d="M239.5 737.3H258.64V737.78H261.91V738.26H263.9V738.75H269.89V739.44H274.83V739.97H279.73V740.49H285.98V741.07H291.96V741.45H296.27V741.83H301V742.56H307.57V743.07H311.71V743.64H314.46V744.03H319.67V744.46H324.36V744.96H327.96V745.5H330.85V745.9H334.17V746.27H337.23V746.69H340.75V747.06H346.09V747.75H349.61V748.22H355.05V748.87H358.91V749.19H360.5V749.84H362.28V751.03H365.47V751.68H367.23V752.5H369.45V753.03H373.31V753.38H379.18V753.98H384.51V754.35H386.52V754.74H390.3V755.24H395.67V755.89H399.16V756.36H404.9V756.98H407.53V757.71H411.52V758.17H413.21V758.65H414.98V759.54H418.31V760.01H420.01V761.46H422.8V762.64H426.91V763.42H430.15V763.74H433.78V764.28H435.49V764.81H487.56V765H490.1" stroke="#32CD32" stroke-width="2.2" fill="none" stroke-dasharray="8 4"/><path d="M239.5 737.3H258.48V737.7H261.81V738.2H267.03V738.75H271.36V739.22H276.98V739.71H283.91V740.08H289.64V740.39H293.95V740.75H300.65V741.36H304.6V741.97H307.16V742.32H309.47V742.74H316.12V743.17H320.08V743.75H325.18V744.25H328.55V744.59H332.04V744.92H337.91V745.29H341.56V745.76H347.65V746.34H353.07V746.76H355.31V747.13H360.75V747.46H363.26V747.78H369.3V748.25H375.18V748.66H379.01V749.34H382.85V749.68H388.09V750.32H391.02V750.74H396.35V751.19H398.24V751.51H401.3V751.85H407.29V752.35H413.86V753.41H416.78V754.35H419.12V755.23H488.67V755.3H490.1" stroke="#1E90FF" stroke-width="2.2" fill="none" stroke-dasharray="8 8"/><path d="M257.41 734.5v5.6M260.29 734.95v5.6M262.27 734.95v5.6M264.41 735.41v5.6M267.57 735.41v5.6M269.83 735.97v5.6M271.71 735.97v5.6M273.48 735.97v5.6M275.19 735.97v5.6M277.87 735.97v5.6M280.41 736.3v5.6M282.76 736.3v5.6M284.52 736.3v5.6M286.16 736.3v5.6M287.9 736.3v5.6M290.23 736.3v5.6M291.66 736.3v5.6M293.1 736.3v5.6M295.08 736.62v5.6M296.93 736.62v5.6M298.69 736.62v5.6M300.57 736.62v5.6M301.86 736.62v5.6M303.96 736.62v5.6M305.79 736.98v5.6M307.66 736.98v5.6M308.68 736.98v5.6M310.03 736.98v5.6M311.3 736.98v5.6M312.6 736.98v5.6M313.95 737.32v5.6M315.03 737.32v5.6M315.85 737.32v5.6M317.53 737.32v5.6M318.26 737.32v5.6M319.43 737.32v5.6M321.2 737.32v5.6M322.53 737.32v5.6M323.46 737.68v5.6M324.63 737.68v5.6M325.63 737.68v5.6M326.72 737.68v5.6M327.74 737.68v5.6M328.81 737.68v5.6M329.66 737.68v5.6M331.77 737.68v5.6M333.64 738.17v5.6M334.37 738.17v5.6M335.27 738.17v5.6M336.13 738.17v5.6M337.38 738.17v5.6M338.22 738.56v5.6M338.97 738.56v5.6M340.22 738.87v5.6M341.44 738.87v5.6M342.46 738.87v5.6M343.41 738.87v5.6M345.13 738.87v5.6M346.36 739.34v5.6M347.49 739.34v5.6M348.45 739.34v5.6M349.49 739.34v5.6M350.18 739.34v5.6M351.18 739.34v5.6M352.14 739.75v5.6M353.42 739.75v5.6M354.45 739.75v5.6M355.32 739.75v5.6M356 740.11v5.6M357 740.11v5.6M358.03 740.11v5.6M359.31 740.11v5.6M360.03 740.45v5.6M362.3 740.45v5.6M363.29 740.45v5.6M364.67 740.45v5.6M365.64 740.45v5.6M366.54 740.9v5.6M367.23 740.9v5.6M368.28 740.9v5.6M369.48 740.9v5.6M370.33 740.9v5.6M371.57 740.9v5.6M373.45 741.57v5.6M374.64 741.57v5.6M375.49 741.57v5.6M376.63 742.38v5.6M377.68 742.38v5.6M378.64 742.38v5.6M379.66 742.84v5.6M381.02 743.34v5.6M381.83 743.34v5.6M382.82 743.86v5.6M383.97 744.64v5.6M384.76 744.64v5.6M385.47 744.64v5.6M386.75 745.68v5.6M388.09 745.68v5.6M389.38 745.68v5.6M390.28 746.96v5.6M391.23 746.96v5.6M392.12 746.96v5.6M393.27 746.96v5.6M394.09 747.58v5.6M394.94 747.58v5.6M396.2 748.49v5.6M397.47 748.49v5.6M398.73 749.54v5.6M400.03 749.54v5.6M401.39 750.48v5.6M402.67 750.48v5.6M404.02 751.25v5.6M404.81 751.25v5.6M406.02 751.94v5.6M406.68 751.94v5.6M407.44 751.94v5.6M408.51 753.17v5.6M409.52 753.17v5.6M410.55 753.17v5.6M411.31 753.17v5.6M412.29 754.47v5.6M414.62 754.47v5.6M415.76 755.19v5.6M416.55 755.19v5.6M417.36 755.95v5.6M418.32 755.95v5.6M419.36 757.2v5.6M421.43 757.2v5.6M422.28 758.48v5.6M423.31 758.48v5.6M424.62 760.06v5.6M425.72 760.06v5.6M427.1 760.06v5.6M428.05 760.89v5.6M429.22 760.89v5.6M430.35 762.12v5.6M431.22 762.12v5.6M432.05 763.94v5.6M433 763.94v5.6M434.3 763.94v5.6M435.55 765.46v5.6M436.59 765.46v5.6M437.79 765.46v5.6M439.04 766.31v5.6M440.36 768.12v5.6M441.33 768.12v5.6M442.67 768.12v5.6M443.72 769.83v5.6M444.45 769.83v5.6M445.18 769.83v5.6M445.86 769.83v5.6M447.24 770.78v5.6M448.49 772.65v5.6M449.42 772.65v5.6M450.66 772.65v5.6M451.4 772.65v5.6M452.14 774.4v5.6M453.34 774.4v5.6M454.42 774.8v5.6M455.7 774.8v5.6M456.88 774.8v5.6M457.77 774.8v5.6M458.47 774.8v5.6M459.14 774.8v5.6M460.37 774.8v5.6M461.07 774.8v5.6M462.81 774.8v5.6M464.1 774.8v5.6M465.12 774.8v5.6M465.98 774.8v5.6M467.3 774.8v5.6M468.68 774.8v5.6M469.66 774.8v5.6M470.55 774.8v5.6M473.03 774.8v5.6M474.21 774.8v5.6M475.45 774.8v5.6M476.66 774.8v5.6M477.32 774.8v5.6M478.36 774.8v5.6M479.07 774.8v5.6M479.82 774.8v5.6M481.1 774.8v5.6M481.98 774.8v5.6M482.9 774.8v5.6M484.95 774.8v5.6M485.63 774.8v5.6M486.34 774.8v5.6M487.73 774.8v5.6M488.43 774.8v5.6M489.73 774.8v5.6" stroke="#FF6347" stroke-width="1.1" fill="none" opacity="0.9"/><path d="M256.76 734.9v5.6M259.74 734.9v5.6M262.92 735.58v5.6M264.98 735.97v5.6M268.15 736.29v5.6M270.23 736.29v5.6M273.49 737.03v5.6M276.76 737.42v5.6M279.06 737.42v5.6M281.31 737.76v5.6M284.16 738.13v5.6M286.48 738.13v5.6M288.86 738.62v5.6M290.68 738.62v5.6M292.14 739.01v5.6M294.13 739.01v5.6M295.71 739.33v5.6M297.88 739.33v5.6M299.3 739.69v5.6M300.71 739.69v5.6M303.03 740.06v5.6M304.8 740.06v5.6M307.01 740.5v5.6M308.25 740.5v5.6M308.92 740.5v5.6M310.09 740.5v5.6M310.88 740.5v5.6M312.02 741.12v5.6M313.3 741.12v5.6M314.35 741.12v5.6M315.28 741.43v5.6M316.64 741.43v5.6M317.75 741.79v5.6M319.04 741.79v5.6M319.69 741.79v5.6M320.39 741.79v5.6M321.53 741.79v5.6M322.62 742.26v5.6M323.39 742.26v5.6M324.14 742.26v5.6M324.89 742.26v5.6M326.76 742.26v5.6M327.55 742.89v5.6M328.29 742.89v5.6M329.38 742.89v5.6M330.58 742.89v5.6M331.75 742.89v5.6M332.78 743.68v5.6M333.48 743.68v5.6M334.51 743.68v5.6M335.84 743.68v5.6M336.69 744.17v5.6M337.92 744.17v5.6M339.09 744.17v5.6M340.06 744.17v5.6M341.12 744.17v5.6M342.43 744.72v5.6M343.68 744.72v5.6M344.84 745.18v5.6M345.8 745.18v5.6M346.81 745.18v5.6M349.2 745.86v5.6M350.22 745.86v5.6M350.98 745.86v5.6M352.06 746.16v5.6M352.91 746.16v5.6M354.3 746.16v5.6M355.51 746.16v5.6M356.39 746.93v5.6M357.18 746.93v5.6M358.14 746.93v5.6M358.91 746.93v5.6M360.06 747.65v5.6M360.86 747.65v5.6M361.7 749.28v5.6M362.36 749.28v5.6M363.01 749.28v5.6M364 749.28v5.6M365.03 749.28v5.6M366.16 750.52v5.6M367.45 750.52v5.6M368.38 750.52v5.6M369.4 751.35v5.6M371.5 751.72v5.6M372.41 751.72v5.6M373.18 751.72v5.6M373.84 751.72v5.6M375.05 752.11v5.6M375.9 752.11v5.6M376.96 752.11v5.6M377.71 752.11v5.6M378.6 752.69v5.6M379.91 752.69v5.6M380.82 752.69v5.6M381.63 752.69v5.6M382.48 752.69v5.6M383.15 752.69v5.6M384.45 753.36v5.6M385.44 753.36v5.6M386.2 753.36v5.6M386.89 753.88v5.6M387.58 753.88v5.6M388.43 753.88v5.6M389.82 753.88v5.6M390.58 754.32v5.6M391.24 754.32v5.6M392.43 754.32v5.6M394.85 754.93v5.6M396.16 754.93v5.6M397.4 755.97v5.6M398.69 755.97v5.6M399.69 756.9v5.6M400.62 756.9v5.6M401.34 756.9v5.6M402.22 756.9v5.6M403.46 758.02v5.6M404.84 758.02v5.6M406.15 758.02v5.6M407.47 758.37v5.6M409.45 758.96v5.6M411.4 758.96v5.6M412.49 759.3v5.6M413.21 759.3v5.6M414.13 759.97v5.6M415.2 759.97v5.6M416.15 759.97v5.6M417.4 760.54v5.6M418.08 760.54v5.6M419.32 760.54v5.6M420.55 761.17v5.6M421.63 761.17v5.6M422.93 761.17v5.6M423.94 762.02v5.6M424.93 762.02v5.6M425.93 762.02v5.6M426.79 762.02v5.6M427.96 762.58v5.6M429.89 763.11v5.6M430.84 763.11v5.6M431.66 763.11v5.6M432.51 763.59v5.6M433.18 763.59v5.6M434.34 763.59v5.6M435.03 764.32v5.6M435.89 764.32v5.6M436.61 764.32v5.6M437.52 765.56v5.6M438.33 765.56v5.6M439.44 765.56v5.6M440.33 765.56v5.6M441.15 766.61v5.6M442.16 766.61v5.6M443.46 766.61v5.6M445.24 766.61v5.6M446.25 766.61v5.6M447.12 766.61v5.6M447.87 766.61v5.6M448.9 766.61v5.6M451.5 766.61v5.6M452.49 766.61v5.6M453.51 766.61v5.6M456.06 766.61v5.6M457.18 766.61v5.6M458.07 766.61v5.6M459 766.61v5.6M460.12 766.61v5.6M461.28 766.61v5.6M462.49 766.61v5.6M463.47 766.61v5.6M464.79 766.61v5.6M465.56 766.61v5.6M466.66 766.61v5.6M467.92 766.91v5.6M469.17 766.91v5.6M469.89 766.91v5.6M470.69 766.91v5.6M471.7 766.91v5.6M472.41 766.91v5.6M473.64 766.91v5.6M474.96 766.91v5.6M475.71 766.91v5.6M476.79 766.91v5.6M477.95 766.91v5.6M478.61 766.91v5.6M479.88 766.91v5.6M480.65 766.91v5.6M482.03 766.91v5.6M483.12 766.91v5.6M484.05 766.91v5.6M485.39 766.91v5.6M486.46 766.91v5.6M487.77 766.91v5.6M489.44 767v5.6" stroke="#FFA500" stroke-width="1.1" fill="none" opacity="0.9"/><path d="M257.34 734.5v5.6M260.23 734.98v5.6M262.98 735.46v5.6M265.51 735.95v5.6M268.15 735.95v5.6M270.34 736.64v5.6M273.52 736.64v5.6M276.71 737.17v5.6M279.03 737.17v5.6M281.97 737.69v5.6M283.92 737.69v5.6M285.61 737.69v5.6M287.49 738.27v5.6M289.48 738.27v5.6M290.79 738.27v5.6M292.63 738.65v5.6M294.84 738.65v5.6M297.16 739.03v5.6M299.52 739.03v5.6M300.66 739.03v5.6M302.43 739.76v5.6M304.22 739.76v5.6M306.2 739.76v5.6M307.96 740.27v5.6M308.75 740.27v5.6M309.59 740.27v5.6M310.76 740.27v5.6M312.45 740.84v5.6M313.23 740.84v5.6M314.02 740.84v5.6M315.08 741.23v5.6M315.77 741.23v5.6M317.1 741.23v5.6M318.33 741.23v5.6M319 741.23v5.6M320.31 741.66v5.6M321.66 741.66v5.6M322.59 741.66v5.6M323.87 741.66v5.6M324.82 742.16v5.6M325.91 742.16v5.6M327.06 742.16v5.6M328.32 742.7v5.6M329.27 742.7v5.6M330.54 742.7v5.6M331.86 743.1v5.6M332.55 743.1v5.6M333.27 743.1v5.6M334.03 743.1v5.6M334.7 743.47v5.6M335.43 743.47v5.6M336.25 743.47v5.6M337.28 743.89v5.6M338.56 743.89v5.6M339.45 743.89v5.6M340.61 743.89v5.6M341.49 744.26v5.6M342.33 744.26v5.6M343.44 744.26v5.6M344.7 744.26v5.6M345.78 744.26v5.6M346.49 744.95v5.6M347.43 744.95v5.6M348.8 744.95v5.6M349.55 744.95v5.6M350.65 745.42v5.6M351.45 745.42v5.6M352.45 745.42v5.6M353.81 745.42v5.6M354.66 745.42v5.6M355.69 746.07v5.6M358.21 746.07v5.6M359.56 746.39v5.6M360.84 747.04v5.6M361.49 747.04v5.6M362.84 748.23v5.6M363.91 748.23v5.6M365.13 748.23v5.6M366.27 748.88v5.6M367.64 749.7v5.6M369.01 749.7v5.6M369.66 750.23v5.6M370.35 750.23v5.6M371.22 750.23v5.6M372.25 750.23v5.6M372.96 750.23v5.6M373.87 750.58v5.6M375.07 750.58v5.6M376.25 750.58v5.6M377.26 750.58v5.6M379.11 750.58v5.6M379.89 751.18v5.6M380.89 751.18v5.6M381.91 751.18v5.6M383.1 751.18v5.6M383.76 751.18v5.6M386.26 751.55v5.6M386.91 751.94v5.6M388.7 751.94v5.6M389.55 751.94v5.6M390.6 752.44v5.6M391.46 752.44v5.6M392.8 752.44v5.6M394.09 752.44v5.6M394.93 752.44v5.6M395.7 753.09v5.6M396.82 753.09v5.6M397.74 753.09v5.6M399.04 753.09v5.6M400.26 753.56v5.6M400.99 753.56v5.6M401.93 753.56v5.6M402.6 753.56v5.6M403.55 753.56v5.6M404.48 753.56v5.6M405.83 754.18v5.6M406.98 754.18v5.6M408.22 754.91v5.6M410.07 754.91v5.6M410.86 754.91v5.6M411.88 755.37v5.6M413.16 755.37v5.6M413.93 755.85v5.6M416.52 756.74v5.6M417.9 756.74v5.6M419.02 757.21v5.6M419.74 757.21v5.6M421.09 758.66v5.6M422.46 758.66v5.6M423.22 759.84v5.6M424.19 759.84v5.6M425.36 759.84v5.6M426.29 759.84v5.6M427.07 760.62v5.6M428.45 760.62v5.6M429.67 760.62v5.6M430.8 760.94v5.6M431.49 760.94v5.6M432.7 760.94v5.6M433.36 760.94v5.6M434.31 761.48v5.6M436.68 762.01v5.6M437.51 762.01v5.6M438.31 762.01v5.6M439.48 762.01v5.6M440.2 762.01v5.6M440.89 762.01v5.6M441.57 762.01v5.6M442.44 762.01v5.6M443.2 762.01v5.6M443.95 762.01v5.6M444.79 762.01v5.6M445.58 762.01v5.6M446.54 762.01v5.6M447.66 762.01v5.6M449.04 762.01v5.6M450.11 762.01v5.6M451.34 762.01v5.6M452.51 762.01v5.6M453.34 762.01v5.6M454.67 762.01v5.6M455.65 762.01v5.6M456.53 762.01v5.6M457.83 762.01v5.6M459.17 762.01v5.6M459.84 762.01v5.6M460.53 762.01v5.6M461.45 762.01v5.6M462.62 762.01v5.6M463.45 762.01v5.6M464.5 762.01v5.6M465.88 762.01v5.6M467.21 762.01v5.6M468.07 762.01v5.6M468.79 762.01v5.6M470.13 762.01v5.6M471.93 762.01v5.6M472.92 762.01v5.6M474.09 762.01v5.6M475.38 762.01v5.6M476.26 762.01v5.6M477.63 762.01v5.6M478.8 762.01v5.6M479.69 762.01v5.6M480.76 762.01v5.6M481.65 762.01v5.6M482.81 762.01v5.6M483.92 762.01v5.6M484.86 762.01v5.6M487.04 762.01v5.6M488.17 762.2v5.6M489.55 762.2v5.6" stroke="#32CD32" stroke-width="1.1" fill="none" opacity="0.9"/><path d="M256.52 734.5v5.6M258.29 734.5v5.6M260.13 734.9v5.6M261.33 734.9v5.6M262.85 735.4v5.6M264.32 735.4v5.6M265.62 735.4v5.6M266.92 735.4v5.6M268.04 735.95v5.6M269.7 735.95v5.6M271.07 735.95v5.6M272.25 736.42v5.6M273.41 736.42v5.6M274.61 736.42v5.6M276.34 736.42v5.6M278.23 736.91v5.6M279.2 736.91v5.6M280.97 736.91v5.6M282.37 736.91v5.6M283.7 736.91v5.6M284.85 737.28v5.6M286.95 737.28v5.6M287.92 737.28v5.6M288.8 737.28v5.6M289.62 737.28v5.6M290.38 737.59v5.6M291.2 737.59v5.6M292.16 737.59v5.6M293.26 737.59v5.6M294.2 737.95v5.6M296.2 737.95v5.6M297.5 737.95v5.6M298.24 737.95v5.6M299.99 737.95v5.6M300.77 738.56v5.6M301.83 738.56v5.6M302.56 738.56v5.6M303.68 738.56v5.6M304.94 739.17v5.6M306.86 739.17v5.6M307.74 739.52v5.6M309.91 739.94v5.6M311.31 739.94v5.6M311.99 739.94v5.6M313.24 739.94v5.6M314.11 739.94v5.6M315.32 739.94v5.6M316.57 740.37v5.6M318.66 740.37v5.6M319.9 740.37v5.6M320.73 740.95v5.6M322.09 740.95v5.6M323.37 740.95v5.6M324.76 740.95v5.6M326.14 741.45v5.6M327 741.45v5.6M327.9 741.45v5.6M328.77 741.79v5.6M329.66 741.79v5.6M330.35 741.79v5.6M332.35 742.12v5.6M333.96 742.12v5.6M335.17 742.12v5.6M335.97 742.12v5.6M336.66 742.12v5.6M337.5 742.12v5.6M339.89 742.49v5.6M340.63 742.49v5.6M341.96 742.96v5.6M343.27 742.96v5.6M344.54 742.96v5.6M345.59 742.96v5.6M346.51 742.96v5.6M347.21 742.96v5.6M348.02 743.54v5.6M349.08 743.54v5.6M350.21 743.54v5.6M351.24 743.54v5.6M352.35 743.54v5.6M353.41 743.96v5.6M354.25 743.96v5.6M354.95 743.96v5.6M355.97 744.33v5.6M356.63 744.33v5.6M357.48 744.33v5.6M358.57 744.33v5.6M359.84 744.33v5.6M360.82 744.66v5.6M361.7 744.66v5.6M362.87 744.66v5.6M365.41 744.98v5.6M367.64 744.98v5.6M369.01 744.98v5.6M370.83 745.45v5.6M371.64 745.45v5.6M372.55 745.45v5.6M373.56 745.45v5.6M374.59 745.45v5.6M375.92 745.86v5.6M376.73 745.86v5.6M378.07 745.86v5.6M378.88 745.86v5.6M379.87 746.54v5.6M380.64 746.54v5.6M382.45 746.54v5.6M383.79 746.88v5.6M384.79 746.88v5.6M385.71 746.88v5.6M386.69 746.88v5.6M387.65 746.88v5.6M388.72 747.52v5.6M389.47 747.52v5.6M390.56 747.52v5.6M391.66 747.94v5.6M392.75 747.94v5.6M394.09 747.94v5.6M395.18 747.94v5.6M395.9 747.94v5.6M396.85 748.39v5.6M398.2 748.39v5.6M399.38 748.71v5.6M400.32 748.71v5.6M402.88 749.05v5.6M403.86 749.05v5.6M404.69 749.05v5.6M405.41 749.05v5.6M406.19 749.05v5.6M407.15 749.05v5.6M408.24 749.55v5.6M409.38 749.55v5.6M410.66 749.55v5.6M411.73 749.55v5.6M412.61 749.55v5.6M413.99 750.61v5.6M415.02 750.61v5.6M415.86 750.61v5.6M416.63 750.61v5.6M417.7 751.55v5.6M418.69 751.55v5.6M419.74 752.43v5.6M420.67 752.43v5.6M421.64 752.43v5.6M423.03 752.43v5.6M424.17 752.43v5.6M425.31 752.43v5.6M426.12 752.43v5.6M427.03 752.43v5.6M427.86 752.43v5.6M428.72 752.43v5.6M429.92 752.43v5.6M431.01 752.43v5.6M432.25 752.43v5.6M433.09 752.43v5.6M434.27 752.43v5.6M435.03 752.43v5.6M436.11 752.43v5.6M437.19 752.43v5.6M438.4 752.43v5.6M439.78 752.43v5.6M440.97 752.43v5.6M442.27 752.43v5.6M442.94 752.43v5.6M443.92 752.43v5.6M444.91 752.43v5.6M446.3 752.43v5.6M447.13 752.43v5.6M448.32 752.43v5.6M449.46 752.43v5.6M450.28 752.43v5.6M451.36 752.43v5.6M452.47 752.43v5.6M453.67 752.43v5.6M454.98 752.43v5.6M456.14 752.43v5.6M457.41 752.43v5.6M458.25 752.43v5.6M459.49 752.43v5.6M460.23 752.43v5.6M461.52 752.43v5.6M462.6 752.43v5.6M463.84 752.43v5.6M464.51 752.43v5.6M465.2 752.43v5.6M466.31 752.43v5.6M467.27 752.43v5.6M468.19 752.43v5.6M468.92 752.43v5.6M470.3 752.43v5.6M472.69 752.43v5.6M473.67 752.43v5.6M474.93 752.43v5.6M476.71 752.43v5.6M477.76 752.43v5.6M480.2 752.43v5.6M481.57 752.43v5.6M482.39 752.43v5.6M483.38 752.43v5.6M484.78 752.43v5.6M485.98 752.43v5.6M486.89 752.43v5.6M487.92 752.43v5.6M489.21 752.5v5.6" stroke="#1E90FF" stroke-width="1.1" fill="none" opacity="0.9"/><path d="M494.5 765H500.6" stroke="#32CD32" stroke-width="2.2" fill="none"/><path d="M503.9 762.2v5.6M501.1 765h5.6" stroke="#32CD32" stroke-width="1.2" fill="none" opacity="0.9"/></g>
<text x="6" y="12.6" font-family="'Liberation Sans', sans-serif" font-size="17" fill="#000">A</text>
<text x="354.5" y="12.8" font-family="'Liberation Sans', sans-serif" font-size="17" fill="#000">B</text>
<text x="-0.3" y="362.8" font-family="'Liberation Sans', sans-serif" font-size="17" fill="#000">C</text>
<text x="344.3" y="365.9" font-family="'Liberation Sans', sans-serif" font-size="17" fill="#000">D</text>
<text x="164.1" y="743.6" font-family="'Liberation Sans', sans-serif" font-size="17" fill="#000">E</text>
</svg></body></html>
